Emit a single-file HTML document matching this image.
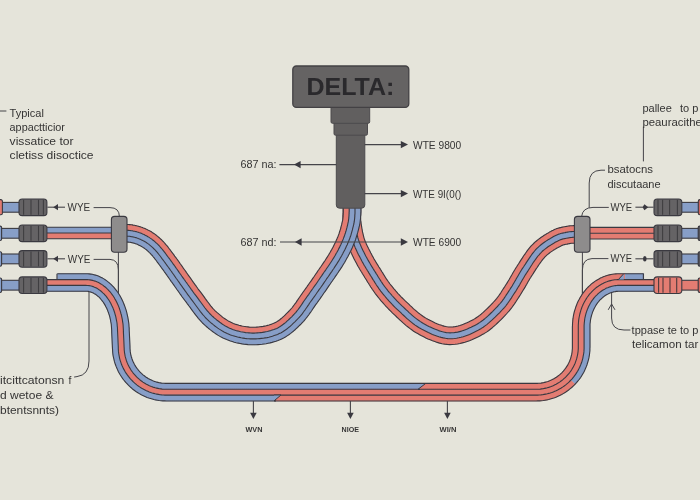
<!DOCTYPE html>
<html lang="en"><head><meta charset="utf-8"><title>Delta / Wye wiring diagram</title>
<style>
html,body{margin:0;padding:0;background:#e5e4da;}
body{width:700px;height:500px;overflow:hidden;}
svg{display:block;will-change:transform;}
text{font-family:"Liberation Sans",sans-serif;fill:#353434;}
</style></head><body>
<svg width="700" height="500" viewBox="0 0 700 500">
<rect width="700" height="500" fill="#e5e4da"/>
<path d="M94,207.6 H110 Q119.4,207.6 119.4,216.4" fill="none" stroke="#454449" stroke-width="1.0" stroke-linecap="round" stroke-linejoin="round" />
<path d="M94,259.4 H110 Q118.4,259.8 118.4,270 V300" fill="none" stroke="#454449" stroke-width="1.0" stroke-linecap="round" stroke-linejoin="round" />
<path d="M118.4,252 V300" fill="none" stroke="#454449" stroke-width="1.0" stroke-linecap="round" stroke-linejoin="round" />
<path d="M89,290 V361 Q89,375 77,376.6 L74.5,377" fill="none" stroke="#454449" stroke-width="1.0" stroke-linecap="round" stroke-linejoin="round" />
<path d="M0,111 H6" fill="none" stroke="#454449" stroke-width="1.0" stroke-linecap="round" stroke-linejoin="round" />
<path d="M608.4,207.4 H593 Q582.4,207.6 581.6,216.4" fill="none" stroke="#454449" stroke-width="1.0" stroke-linecap="round" stroke-linejoin="round" />
<path d="M608,258.6 H592 Q582.4,259 582.4,270 V300" fill="none" stroke="#454449" stroke-width="1.0" stroke-linecap="round" stroke-linejoin="round" />
<path d="M582.4,252 V300" fill="none" stroke="#454449" stroke-width="1.0" stroke-linecap="round" stroke-linejoin="round" />
<path d="M604.6,170.2 H601 Q589.2,170.4 589.2,183 V207.4" fill="none" stroke="#454449" stroke-width="1.0" stroke-linecap="round" stroke-linejoin="round" />
<path d="M643.4,127 V161" fill="none" stroke="#454449" stroke-width="1.0" stroke-linecap="round" stroke-linejoin="round" />
<path d="M611.6,291 V318 Q611.6,330 624,330 H630" fill="none" stroke="#454449" stroke-width="1.0" stroke-linecap="round" stroke-linejoin="round" />
<path d="M608.4,309.5 L611.6,304 L614.8,309.5" fill="none" stroke="#454449" stroke-width="1.0" stroke-linecap="round" stroke-linejoin="round" />
<polygon points="360.8,204.0 360.8,204.3 360.8,204.7 360.8,205.2 360.8,205.7 360.8,206.2 360.8,206.8 360.8,207.4 360.8,208.1 360.8,208.7 360.8,209.4 360.8,210.1 360.8,210.7 360.8,211.4 360.8,212.1 360.8,212.8 360.7,213.6 360.7,214.3 360.6,214.9 360.6,215.4 360.6,215.9 360.5,216.3 360.5,216.7 360.5,217.1 360.5,217.5 360.5,218.0 360.6,218.5 360.6,219.2 360.7,220.0 360.8,220.9 361.0,222.1 361.1,223.3 361.3,224.5 361.5,225.8 361.7,227.2 361.9,228.5 362.2,229.9 362.4,231.3 362.7,232.6 363.0,233.9 363.3,235.2 363.6,236.4 363.9,237.5 364.2,238.5 364.6,239.6 365.0,240.7 365.4,241.7 365.9,242.8 366.3,243.9 366.8,245.0 367.3,246.1 367.9,247.2 368.4,248.3 369.0,249.4 369.6,250.6 370.2,251.8 370.8,253.0 371.4,254.1 372.0,255.2 372.6,256.4 373.3,257.5 373.9,258.7 374.6,259.9 375.3,261.0 376.0,262.2 376.7,263.4 377.5,264.6 378.2,265.8 378.9,267.0 379.7,268.1 380.4,269.3 381.2,270.6 381.9,271.8 382.7,272.9 383.4,274.1 384.1,275.2 384.8,276.4 385.5,277.5 386.2,278.6 386.9,279.6 387.7,280.7 388.4,281.8 389.2,282.9 390.0,284.0 390.9,285.1 391.8,286.2 392.8,287.4 393.7,288.6 394.7,289.7 395.7,290.9 396.8,292.1 397.8,293.3 398.9,294.5 400.0,295.6 401.1,296.8 402.3,298.0 403.5,299.2 404.7,300.4 406.0,301.6 407.4,302.9 408.8,304.2 410.2,305.6 411.7,306.9 413.1,308.3 414.5,309.6 416.0,310.8 417.5,312.1 418.9,313.3 420.4,314.4 421.9,315.5 423.3,316.5 424.8,317.5 426.3,318.4 428.0,319.3 429.8,320.2 431.5,321.1 433.3,322.0 435.2,322.9 437.0,323.7 438.8,324.4 440.6,325.0 442.3,325.6 444.0,326.1 445.7,326.5 447.2,326.8 448.7,327.0 450.2,327.0 451.6,327.0 453.1,326.9 454.7,326.7 456.3,326.4 458.0,326.0 459.8,325.5 461.5,324.9 463.3,324.3 465.1,323.5 466.9,322.8 468.6,322.0 470.4,321.1 472.1,320.2 473.7,319.4 475.2,318.5 476.6,317.5 478.1,316.5 479.6,315.4 481.1,314.2 482.6,312.9 484.0,311.6 485.5,310.2 486.9,308.8 488.3,307.5 489.7,306.1 491.1,304.7 492.4,303.3 493.6,302.0 494.7,300.8 495.7,299.7 496.6,298.6 497.4,297.5 498.3,296.4 499.1,295.3 499.9,294.1 500.7,293.0 501.4,291.8 502.2,290.5 503.0,289.3 503.9,287.9 504.8,286.6 505.6,285.2 506.5,283.9 507.3,282.6 508.1,281.3 508.9,280.0 509.7,278.6 510.5,277.2 511.3,275.7 512.2,274.3 513.0,272.8 513.9,271.3 514.8,269.8 515.7,268.2 516.7,266.7 517.6,265.2 518.6,263.8 519.5,262.4 520.4,260.9 521.4,259.4 522.4,257.9 523.4,256.3 524.4,254.8 525.5,253.3 526.6,251.7 527.7,250.2 528.9,248.7 530.1,247.2 531.4,245.7 532.8,244.3 534.1,243.0 535.5,241.7 537.0,240.5 538.4,239.4 539.9,238.3 541.3,237.2 542.8,236.3 544.2,235.3 545.6,234.5 546.9,233.6 548.3,232.9 549.5,232.1 550.7,231.5 551.9,230.8 553.2,230.2 554.4,229.6 555.7,229.1 556.9,228.6 558.1,228.2 559.2,227.9 560.3,227.6 561.3,227.4 562.3,227.1 563.2,227.0 564.1,226.8 564.9,226.7 565.6,226.5 566.4,226.4 567.4,226.2 568.4,226.0 569.5,225.9 570.5,225.8 571.5,225.7 572.4,225.7 573.3,225.6 574.1,225.6 574.9,225.5 575.6,225.5 576.3,225.5 576.8,225.5 577.1,225.5 577.4,225.4 577.8,231.3 577.4,231.3 577.0,231.3 576.5,231.3 575.8,231.4 575.1,231.4 574.4,231.4 573.6,231.5 572.8,231.5 571.9,231.6 571.0,231.6 570.1,231.7 569.2,231.8 568.3,232.0 567.5,232.1 566.7,232.3 565.9,232.4 565.1,232.6 564.3,232.7 563.5,232.9 562.6,233.1 561.7,233.3 560.8,233.5 559.9,233.8 558.9,234.1 557.9,234.5 556.8,235.0 555.7,235.5 554.6,236.0 553.5,236.6 552.4,237.2 551.2,237.9 549.9,238.7 548.6,239.4 547.3,240.3 546.0,241.1 544.7,242.0 543.3,243.0 542.0,244.0 540.7,245.0 539.4,246.1 538.1,247.3 536.9,248.4 535.7,249.7 534.6,251.0 533.5,252.3 532.4,253.7 531.3,255.2 530.3,256.6 529.3,258.1 528.3,259.6 527.3,261.1 526.3,262.6 525.4,264.1 524.4,265.5 523.5,267.0 522.5,268.4 521.6,269.8 520.7,271.3 519.8,272.8 518.9,274.3 518.1,275.7 517.2,277.2 516.4,278.6 515.6,280.1 514.7,281.5 513.9,282.9 513.1,284.3 512.3,285.7 511.4,287.1 510.5,288.4 509.7,289.8 508.8,291.1 508.0,292.4 507.2,293.7 506.3,294.9 505.5,296.2 504.7,297.4 503.9,298.6 503.0,299.8 502.1,301.1 501.1,302.3 500.1,303.5 499.0,304.7 497.9,306.0 496.6,307.3 495.3,308.7 493.9,310.1 492.5,311.6 491.0,313.0 489.5,314.5 488.0,315.9 486.4,317.3 484.8,318.7 483.2,320.0 481.5,321.2 479.9,322.4 478.2,323.5 476.6,324.5 474.8,325.4 473.0,326.3 471.1,327.3 469.2,328.1 467.3,329.0 465.4,329.7 463.4,330.4 461.5,331.1 459.5,331.6 457.6,332.1 455.6,332.4 453.7,332.7 451.9,332.8 450.1,332.9 448.2,332.8 446.4,332.6 444.5,332.2 442.6,331.8 440.6,331.2 438.6,330.6 436.7,329.8 434.7,329.1 432.8,328.2 430.8,327.3 428.9,326.4 427.0,325.4 425.2,324.4 423.4,323.5 421.8,322.5 420.1,321.4 418.5,320.3 416.9,319.1 415.3,317.9 413.7,316.6 412.2,315.3 410.6,313.9 409.1,312.6 407.7,311.2 406.2,309.8 404.8,308.5 403.4,307.2 402.0,305.9 400.7,304.6 399.4,303.4 398.2,302.1 396.9,300.9 395.8,299.7 394.6,298.4 393.5,297.2 392.4,296.0 391.3,294.7 390.3,293.5 389.2,292.3 388.2,291.1 387.3,289.9 386.3,288.7 385.4,287.5 384.5,286.4 383.7,285.2 382.9,284.1 382.1,282.9 381.3,281.8 380.6,280.6 379.9,279.5 379.1,278.3 378.4,277.2 377.7,276.0 377.0,274.8 376.2,273.6 375.5,272.4 374.7,271.2 374.0,270.1 373.2,268.8 372.5,267.6 371.7,266.4 371.0,265.2 370.3,264.0 369.6,262.8 368.9,261.6 368.2,260.4 367.5,259.2 366.9,258.0 366.2,256.8 365.6,255.7 365.0,254.5 364.4,253.3 363.8,252.1 363.2,250.9 362.6,249.7 362.0,248.6 361.5,247.4 361.0,246.2 360.5,245.1 360.0,243.9 359.5,242.7 359.1,241.6 358.7,240.4 358.3,239.2 357.9,237.9 357.6,236.6 357.3,235.2 357.0,233.8 356.7,232.4 356.4,231.0 356.2,229.5 355.9,228.1 355.7,226.7 355.5,225.3 355.3,224.1 355.2,222.8 355.0,221.7 354.9,220.7 354.8,219.8 354.7,219.0 354.7,218.3 354.7,217.6 354.7,217.0 354.7,216.5 354.7,216.0 354.7,215.5 354.8,215.0 354.8,214.4 354.9,213.9 354.9,213.3 354.9,212.7 354.9,212.0 354.9,211.4 354.9,210.7 354.9,210.1 354.9,209.4 354.9,208.7 354.9,208.1 354.9,207.4 354.9,206.8 354.9,206.2 354.9,205.7 354.9,205.2 354.9,204.7 354.9,204.3 354.9,204.0" fill="#e37c72" stroke="#e37c72" stroke-width="0.4"/>
<polygon points="354.9,204.0 354.9,204.3 354.9,204.7 354.9,205.2 354.9,205.7 354.9,206.2 354.9,206.8 354.9,207.4 354.9,208.1 354.9,208.7 354.9,209.4 354.9,210.1 354.9,210.7 354.9,211.4 354.9,212.0 354.9,212.7 354.9,213.3 354.9,213.9 354.8,214.4 354.8,215.0 354.7,215.5 354.7,216.0 354.7,216.5 354.7,217.0 354.7,217.6 354.7,218.3 354.7,219.0 354.8,219.8 354.9,220.7 355.0,221.7 355.2,222.8 355.3,224.1 355.5,225.3 355.7,226.7 355.9,228.1 356.2,229.5 356.4,231.0 356.7,232.4 357.0,233.8 357.3,235.2 357.6,236.6 357.9,237.9 358.3,239.2 358.7,240.4 359.1,241.6 359.5,242.7 360.0,243.9 360.5,245.1 361.0,246.2 361.5,247.4 362.0,248.6 362.6,249.7 363.2,250.9 363.8,252.1 364.4,253.3 365.0,254.5 365.6,255.7 366.2,256.8 366.9,258.0 367.5,259.2 368.2,260.4 368.9,261.6 369.6,262.8 370.3,264.0 371.0,265.2 371.7,266.4 372.5,267.6 373.2,268.8 374.0,270.1 374.7,271.2 375.5,272.4 376.2,273.6 377.0,274.8 377.7,276.0 378.4,277.2 379.1,278.3 379.9,279.5 380.6,280.6 381.3,281.8 382.1,282.9 382.9,284.1 383.7,285.2 384.5,286.4 385.4,287.5 386.3,288.7 387.3,289.9 388.2,291.1 389.2,292.3 390.3,293.5 391.3,294.7 392.4,296.0 393.5,297.2 394.6,298.4 395.8,299.7 396.9,300.9 398.2,302.1 399.4,303.4 400.7,304.6 402.0,305.9 403.4,307.2 404.8,308.5 406.2,309.8 407.7,311.2 409.1,312.6 410.6,313.9 412.2,315.3 413.7,316.6 415.3,317.9 416.9,319.1 418.5,320.3 420.1,321.4 421.8,322.5 423.4,323.5 425.2,324.4 427.0,325.4 428.9,326.4 430.8,327.3 432.8,328.2 434.7,329.1 436.7,329.8 438.6,330.6 440.6,331.2 442.6,331.8 444.5,332.2 446.4,332.6 448.2,332.8 450.1,332.9 451.9,332.8 453.7,332.7 455.6,332.4 457.6,332.1 459.5,331.6 461.5,331.1 463.4,330.4 465.4,329.7 467.3,329.0 469.2,328.1 471.1,327.3 473.0,326.3 474.8,325.4 476.6,324.5 478.2,323.5 479.9,322.4 481.5,321.2 483.2,320.0 484.8,318.7 486.4,317.3 488.0,315.9 489.5,314.5 491.0,313.0 492.5,311.6 493.9,310.1 495.3,308.7 496.6,307.3 497.9,306.0 499.0,304.7 500.1,303.5 501.1,302.3 502.1,301.1 503.0,299.8 503.9,298.6 504.7,297.4 505.5,296.2 506.3,294.9 507.2,293.7 508.0,292.4 508.8,291.1 509.7,289.8 510.5,288.4 511.4,287.1 512.3,285.7 513.1,284.3 513.9,282.9 514.7,281.5 515.6,280.1 516.4,278.6 517.2,277.2 518.1,275.7 518.9,274.3 519.8,272.8 520.7,271.3 521.6,269.8 522.5,268.4 523.5,267.0 524.4,265.5 525.4,264.1 526.3,262.6 527.3,261.1 528.3,259.6 529.3,258.1 530.3,256.6 531.3,255.2 532.4,253.7 533.5,252.3 534.6,251.0 535.7,249.7 536.9,248.4 538.1,247.3 539.4,246.1 540.7,245.0 542.0,244.0 543.3,243.0 544.7,242.0 546.0,241.1 547.3,240.3 548.6,239.4 549.9,238.7 551.2,237.9 552.4,237.2 553.5,236.6 554.6,236.0 555.7,235.5 556.8,235.0 557.9,234.5 558.9,234.1 559.9,233.8 560.8,233.5 561.7,233.3 562.6,233.1 563.5,232.9 564.3,232.7 565.1,232.6 565.9,232.4 566.7,232.3 567.5,232.1 568.3,232.0 569.2,231.8 570.1,231.7 571.0,231.6 571.9,231.6 572.8,231.5 573.6,231.5 574.4,231.4 575.1,231.4 575.8,231.4 576.5,231.3 577.0,231.3 577.4,231.3 577.8,231.3 578.2,237.1 577.8,237.1 577.2,237.2 576.7,237.2 576.0,237.2 575.4,237.2 574.6,237.3 573.9,237.3 573.1,237.3 572.3,237.4 571.6,237.5 570.8,237.5 570.0,237.6 569.3,237.7 568.5,237.9 567.8,238.0 567.0,238.2 566.2,238.3 565.4,238.5 564.7,238.6 563.9,238.8 563.2,238.9 562.4,239.1 561.6,239.4 560.8,239.6 560.0,239.9 559.2,240.3 558.3,240.7 557.4,241.2 556.3,241.7 555.2,242.3 554.1,243.0 552.9,243.7 551.7,244.4 550.5,245.2 549.2,246.0 548.0,246.8 546.8,247.7 545.6,248.6 544.4,249.6 543.2,250.5 542.1,251.5 541.1,252.6 540.1,253.6 539.1,254.8 538.0,256.0 537.0,257.3 536.1,258.6 535.1,260.0 534.1,261.4 533.1,262.8 532.2,264.3 531.2,265.8 530.3,267.2 529.3,268.7 528.4,270.2 527.5,271.6 526.6,273.0 525.7,274.4 524.8,275.8 524.0,277.2 523.1,278.7 522.3,280.1 521.5,281.5 520.6,283.0 519.8,284.5 519.0,285.9 518.1,287.3 517.2,288.8 516.4,290.2 515.5,291.6 514.6,292.9 513.7,294.2 512.9,295.5 512.1,296.8 511.3,298.1 510.4,299.4 509.5,300.7 508.6,302.0 507.7,303.3 506.7,304.6 505.7,306.0 504.6,307.3 503.4,308.6 502.1,310.0 500.8,311.4 499.5,312.8 498.1,314.2 496.6,315.7 495.1,317.2 493.5,318.7 491.9,320.2 490.2,321.7 488.5,323.2 486.8,324.6 485.0,325.9 483.2,327.2 481.3,328.4 479.4,329.5 477.6,330.6 475.6,331.6 473.7,332.5 471.6,333.5 469.6,334.4 467.5,335.2 465.3,336.0 463.2,336.7 461.0,337.3 458.8,337.8 456.6,338.2 454.4,338.5 452.2,338.7 449.9,338.7 447.7,338.6 445.5,338.3 443.3,337.9 441.1,337.4 438.9,336.8 436.7,336.1 434.6,335.3 432.4,334.4 430.4,333.5 428.3,332.6 426.3,331.6 424.3,330.6 422.4,329.6 420.6,328.5 418.7,327.5 416.9,326.3 415.1,325.1 413.3,323.8 411.6,322.4 410.0,321.1 408.3,319.7 406.7,318.3 405.2,316.9 403.7,315.5 402.2,314.1 400.8,312.7 399.4,311.4 398.0,310.1 396.6,308.8 395.3,307.6 394.0,306.3 392.7,305.0 391.5,303.7 390.3,302.4 389.1,301.1 388.0,299.8 386.9,298.6 385.8,297.3 384.7,296.0 383.7,294.8 382.7,293.6 381.7,292.3 380.7,291.1 379.8,289.8 378.9,288.6 378.1,287.4 377.2,286.2 376.4,285.0 375.7,283.8 374.9,282.6 374.2,281.4 373.4,280.3 372.7,279.1 372.0,277.9 371.3,276.7 370.5,275.6 369.8,274.4 369.0,273.1 368.3,271.9 367.5,270.7 366.8,269.5 366.0,268.3 365.3,267.0 364.5,265.8 363.8,264.6 363.1,263.3 362.4,262.1 361.7,260.8 361.1,259.6 360.4,258.3 359.8,257.1 359.2,255.9 358.5,254.7 357.9,253.5 357.3,252.3 356.8,251.1 356.2,249.8 355.6,248.6 355.1,247.4 354.6,246.1 354.1,244.8 353.6,243.5 353.1,242.2 352.7,240.8 352.3,239.5 351.9,238.0 351.6,236.5 351.2,235.0 350.9,233.5 350.7,232.0 350.4,230.5 350.2,229.0 349.9,227.6 349.7,226.2 349.5,224.8 349.4,223.6 349.2,222.4 349.1,221.3 349.0,220.3 348.9,219.4 348.8,218.5 348.8,217.7 348.8,217.0 348.8,216.3 348.9,215.7 348.9,215.1 348.9,214.5 349.0,214.0 349.0,213.5 349.0,213.0 349.1,212.5 349.1,212.0 349.1,211.4 349.1,210.7 349.1,210.1 349.1,209.4 349.1,208.7 349.1,208.1 349.1,207.4 349.1,206.8 349.1,206.2 349.1,205.7 349.1,205.2 349.1,204.7 349.1,204.3 349.1,204.0" fill="#879ec7" stroke="#879ec7" stroke-width="0.4"/>
<polygon points="349.1,204.0 349.1,204.3 349.1,204.7 349.1,205.2 349.1,205.7 349.1,206.2 349.1,206.8 349.1,207.4 349.1,208.1 349.1,208.7 349.1,209.4 349.1,210.1 349.1,210.7 349.1,211.4 349.1,212.0 349.1,212.5 349.0,213.0 349.0,213.5 349.0,214.0 348.9,214.5 348.9,215.1 348.9,215.7 348.8,216.3 348.8,217.0 348.8,217.7 348.8,218.5 348.9,219.4 349.0,220.3 349.1,221.3 349.2,222.4 349.4,223.6 349.5,224.8 349.7,226.2 349.9,227.6 350.2,229.0 350.4,230.5 350.7,232.0 350.9,233.5 351.2,235.0 351.6,236.5 351.9,238.0 352.3,239.5 352.7,240.8 353.1,242.2 353.6,243.5 354.1,244.8 354.6,246.1 355.1,247.4 355.6,248.6 356.2,249.8 356.8,251.1 357.3,252.3 357.9,253.5 358.5,254.7 359.2,255.9 359.8,257.1 360.4,258.3 361.1,259.6 361.7,260.8 362.4,262.1 363.1,263.3 363.8,264.6 364.5,265.8 365.3,267.0 366.0,268.3 366.8,269.5 367.5,270.7 368.3,271.9 369.0,273.1 369.8,274.4 370.5,275.6 371.3,276.7 372.0,277.9 372.7,279.1 373.4,280.3 374.2,281.4 374.9,282.6 375.7,283.8 376.4,285.0 377.2,286.2 378.1,287.4 378.9,288.6 379.8,289.8 380.7,291.1 381.7,292.3 382.7,293.6 383.7,294.8 384.7,296.0 385.8,297.3 386.9,298.6 388.0,299.8 389.1,301.1 390.3,302.4 391.5,303.7 392.7,305.0 394.0,306.3 395.3,307.6 396.6,308.8 398.0,310.1 399.4,311.4 400.8,312.7 402.2,314.1 403.7,315.5 405.2,316.9 406.7,318.3 408.3,319.7 410.0,321.1 411.6,322.4 413.3,323.8 415.1,325.1 416.9,326.3 418.7,327.5 420.6,328.5 422.4,329.6 424.3,330.6 426.3,331.6 428.3,332.6 430.4,333.5 432.4,334.4 434.6,335.3 436.7,336.1 438.9,336.8 441.1,337.4 443.3,337.9 445.5,338.3 447.7,338.6 449.9,338.7 452.2,338.7 454.4,338.5 456.6,338.2 458.8,337.8 461.0,337.3 463.2,336.7 465.3,336.0 467.5,335.2 469.6,334.4 471.6,333.5 473.7,332.5 475.6,331.6 477.6,330.6 479.4,329.5 481.3,328.4 483.2,327.2 485.0,325.9 486.8,324.6 488.5,323.2 490.2,321.7 491.9,320.2 493.5,318.7 495.1,317.2 496.6,315.7 498.1,314.2 499.5,312.8 500.8,311.4 502.1,310.0 503.4,308.6 504.6,307.3 505.7,306.0 506.7,304.6 507.7,303.3 508.6,302.0 509.5,300.7 510.4,299.4 511.3,298.1 512.1,296.8 512.9,295.5 513.7,294.2 514.6,292.9 515.5,291.6 516.4,290.2 517.2,288.8 518.1,287.3 519.0,285.9 519.8,284.5 520.6,283.0 521.5,281.5 522.3,280.1 523.1,278.7 524.0,277.2 524.8,275.8 525.7,274.4 526.6,273.0 527.5,271.6 528.4,270.2 529.3,268.7 530.3,267.2 531.2,265.8 532.2,264.3 533.1,262.8 534.1,261.4 535.1,260.0 536.1,258.6 537.0,257.3 538.0,256.0 539.1,254.8 540.1,253.6 541.1,252.6 542.1,251.5 543.2,250.5 544.4,249.6 545.6,248.6 546.8,247.7 548.0,246.8 549.2,246.0 550.5,245.2 551.7,244.4 552.9,243.7 554.1,243.0 555.2,242.3 556.3,241.7 557.4,241.2 558.3,240.7 559.2,240.3 560.0,239.9 560.8,239.6 561.6,239.4 562.4,239.1 563.2,238.9 563.9,238.8 564.7,238.6 565.4,238.5 566.2,238.3 567.0,238.2 567.8,238.0 568.5,237.9 569.3,237.7 570.0,237.6 570.8,237.5 571.6,237.5 572.3,237.4 573.1,237.3 573.9,237.3 574.6,237.3 575.4,237.2 576.0,237.2 576.7,237.2 577.2,237.2 577.8,237.1 578.2,237.1 578.6,243.0 578.1,243.0 577.5,243.0 576.9,243.0 576.2,243.1 575.6,243.1 574.9,243.1 574.2,243.1 573.5,243.2 572.8,243.2 572.1,243.3 571.4,243.3 570.8,243.4 570.2,243.5 569.6,243.6 568.8,243.8 568.0,243.9 567.2,244.1 566.5,244.2 565.8,244.3 565.2,244.5 564.6,244.6 564.0,244.8 563.4,244.9 562.8,245.1 562.2,245.4 561.5,245.6 560.9,246.0 560.1,246.4 559.1,246.9 558.1,247.5 557.0,248.1 555.9,248.7 554.8,249.4 553.6,250.1 552.5,250.9 551.4,251.6 550.2,252.4 549.2,253.2 548.1,254.1 547.1,254.9 546.1,255.8 545.2,256.7 544.4,257.6 543.5,258.6 542.6,259.7 541.7,260.8 540.8,262.1 539.9,263.3 538.9,264.7 538.0,266.1 537.1,267.5 536.1,268.9 535.2,270.4 534.2,271.9 533.3,273.4 532.4,274.8 531.5,276.1 530.7,277.5 529.8,278.8 529.0,280.2 528.2,281.6 527.4,283.0 526.6,284.5 525.7,285.9 524.9,287.4 524.0,288.9 523.1,290.3 522.2,291.8 521.3,293.3 520.4,294.8 519.5,296.1 518.7,297.4 517.8,298.7 517.0,300.0 516.2,301.3 515.3,302.6 514.4,304.0 513.4,305.4 512.4,306.8 511.4,308.2 510.2,309.6 509.0,311.1 507.7,312.5 506.4,314.0 505.1,315.4 503.7,316.8 502.3,318.3 500.8,319.9 499.2,321.4 497.5,323.0 495.8,324.6 494.1,326.1 492.3,327.7 490.4,329.2 488.5,330.7 486.5,332.1 484.4,333.4 482.3,334.6 480.3,335.7 478.3,336.8 476.2,337.8 474.0,338.8 471.8,339.8 469.5,340.7 467.2,341.5 464.9,342.3 462.4,342.9 460.0,343.5 457.5,344.0 455.0,344.3 452.4,344.5 449.8,344.6 447.2,344.4 444.6,344.1 442.1,343.7 439.6,343.1 437.2,342.4 434.8,341.6 432.5,340.8 430.2,339.8 428.0,338.9 425.8,337.9 423.7,336.8 421.6,335.8 419.6,334.7 417.7,333.6 415.7,332.5 413.6,331.2 411.7,329.8 409.8,328.4 408.0,327.0 406.2,325.6 404.5,324.1 402.8,322.7 401.2,321.2 399.7,319.8 398.2,318.4 396.7,317.0 395.4,315.7 394.0,314.4 392.6,313.1 391.2,311.7 389.9,310.4 388.5,309.0 387.3,307.7 386.0,306.4 384.8,305.0 383.6,303.7 382.5,302.4 381.3,301.1 380.3,299.8 379.2,298.5 378.1,297.2 377.1,295.9 376.1,294.6 375.1,293.3 374.2,292.0 373.3,290.7 372.4,289.5 371.6,288.2 370.7,287.0 370.0,285.7 369.2,284.5 368.5,283.3 367.7,282.2 367.0,281.0 366.3,279.8 365.6,278.7 364.8,277.5 364.1,276.2 363.3,275.0 362.5,273.8 361.8,272.5 361.0,271.3 360.2,270.0 359.5,268.8 358.8,267.5 358.0,266.2 357.3,264.9 356.6,263.6 355.9,262.3 355.2,261.0 354.6,259.8 353.9,258.6 353.3,257.3 352.7,256.1 352.1,254.8 351.5,253.6 350.9,252.3 350.3,251.0 349.7,249.6 349.1,248.3 348.6,246.9 348.1,245.5 347.6,244.0 347.1,242.5 346.7,241.0 346.2,239.4 345.9,237.8 345.5,236.2 345.2,234.6 344.9,233.0 344.6,231.5 344.4,229.9 344.1,228.4 343.9,227.0 343.8,225.6 343.6,224.3 343.4,223.2 343.3,222.0 343.2,220.9 343.1,219.8 343.0,218.8 343.0,217.8 343.0,216.9 343.0,216.1 343.0,215.3 343.1,214.7 343.1,214.1 343.1,213.5 343.2,213.1 343.2,212.7 343.2,212.4 343.2,211.9 343.2,211.4 343.2,210.7 343.2,210.1 343.2,209.4 343.2,208.7 343.2,208.1 343.2,207.4 343.2,206.8 343.2,206.2 343.2,205.7 343.2,205.2 343.2,204.7 343.2,204.3 343.2,204.0" fill="#e37c72" stroke="#e37c72" stroke-width="0.4"/>
<polyline points="360.8,204.0 360.8,204.3 360.8,204.7 360.8,205.2 360.8,205.7 360.8,206.2 360.8,206.8 360.8,207.4 360.8,208.1 360.8,208.7 360.8,209.4 360.8,210.1 360.8,210.7 360.8,211.4 360.8,212.1 360.8,212.8 360.7,213.6 360.7,214.3 360.6,214.9 360.6,215.4 360.6,215.9 360.5,216.3 360.5,216.7 360.5,217.1 360.5,217.5 360.5,218.0 360.6,218.5 360.6,219.2 360.7,220.0 360.8,220.9 361.0,222.1 361.1,223.3 361.3,224.5 361.5,225.8 361.7,227.2 361.9,228.5 362.2,229.9 362.4,231.3 362.7,232.6 363.0,233.9 363.3,235.2 363.6,236.4 363.9,237.5 364.2,238.5 364.6,239.6 365.0,240.7 365.4,241.7 365.9,242.8 366.3,243.9 366.8,245.0 367.3,246.1 367.9,247.2 368.4,248.3 369.0,249.4 369.6,250.6 370.2,251.8 370.8,253.0 371.4,254.1 372.0,255.2 372.6,256.4 373.3,257.5 373.9,258.7 374.6,259.9 375.3,261.0 376.0,262.2 376.7,263.4 377.5,264.6 378.2,265.8 378.9,267.0 379.7,268.1 380.4,269.3 381.2,270.6 381.9,271.8 382.7,272.9 383.4,274.1 384.1,275.2 384.8,276.4 385.5,277.5 386.2,278.6 386.9,279.6 387.7,280.7 388.4,281.8 389.2,282.9 390.0,284.0 390.9,285.1 391.8,286.2 392.8,287.4 393.7,288.6 394.7,289.7 395.7,290.9 396.8,292.1 397.8,293.3 398.9,294.5 400.0,295.6 401.1,296.8 402.3,298.0 403.5,299.2 404.7,300.4 406.0,301.6 407.4,302.9 408.8,304.2 410.2,305.6 411.7,306.9 413.1,308.3 414.5,309.6 416.0,310.8 417.5,312.1 418.9,313.3 420.4,314.4 421.9,315.5 423.3,316.5 424.8,317.5 426.3,318.4 428.0,319.3 429.8,320.2 431.5,321.1 433.3,322.0 435.2,322.9 437.0,323.7 438.8,324.4 440.6,325.0 442.3,325.6 444.0,326.1 445.7,326.5 447.2,326.8 448.7,327.0 450.2,327.0 451.6,327.0 453.1,326.9 454.7,326.7 456.3,326.4 458.0,326.0 459.8,325.5 461.5,324.9 463.3,324.3 465.1,323.5 466.9,322.8 468.6,322.0 470.4,321.1 472.1,320.2 473.7,319.4 475.2,318.5 476.6,317.5 478.1,316.5 479.6,315.4 481.1,314.2 482.6,312.9 484.0,311.6 485.5,310.2 486.9,308.8 488.3,307.5 489.7,306.1 491.1,304.7 492.4,303.3 493.6,302.0 494.7,300.8 495.7,299.7 496.6,298.6 497.4,297.5 498.3,296.4 499.1,295.3 499.9,294.1 500.7,293.0 501.4,291.8 502.2,290.5 503.0,289.3 503.9,287.9 504.8,286.6 505.6,285.2 506.5,283.9 507.3,282.6 508.1,281.3 508.9,280.0 509.7,278.6 510.5,277.2 511.3,275.7 512.2,274.3 513.0,272.8 513.9,271.3 514.8,269.8 515.7,268.2 516.7,266.7 517.6,265.2 518.6,263.8 519.5,262.4 520.4,260.9 521.4,259.4 522.4,257.9 523.4,256.3 524.4,254.8 525.5,253.3 526.6,251.7 527.7,250.2 528.9,248.7 530.1,247.2 531.4,245.7 532.8,244.3 534.1,243.0 535.5,241.7 537.0,240.5 538.4,239.4 539.9,238.3 541.3,237.2 542.8,236.3 544.2,235.3 545.6,234.5 546.9,233.6 548.3,232.9 549.5,232.1 550.7,231.5 551.9,230.8 553.2,230.2 554.4,229.6 555.7,229.1 556.9,228.6 558.1,228.2 559.2,227.9 560.3,227.6 561.3,227.4 562.3,227.1 563.2,227.0 564.1,226.8 564.9,226.7 565.6,226.5 566.4,226.4 567.4,226.2 568.4,226.0 569.5,225.9 570.5,225.8 571.5,225.7 572.4,225.7 573.3,225.6 574.1,225.6 574.9,225.5 575.6,225.5 576.3,225.5 576.8,225.5 577.1,225.5 577.4,225.4" fill="none" stroke="#3a3940" stroke-width="1.1" stroke-linejoin="round"/>
<polyline points="354.9,204.0 354.9,204.3 354.9,204.7 354.9,205.2 354.9,205.7 354.9,206.2 354.9,206.8 354.9,207.4 354.9,208.1 354.9,208.7 354.9,209.4 354.9,210.1 354.9,210.7 354.9,211.4 354.9,212.0 354.9,212.7 354.9,213.3 354.9,213.9 354.8,214.4 354.8,215.0 354.7,215.5 354.7,216.0 354.7,216.5 354.7,217.0 354.7,217.6 354.7,218.3 354.7,219.0 354.8,219.8 354.9,220.7 355.0,221.7 355.2,222.8 355.3,224.1 355.5,225.3 355.7,226.7 355.9,228.1 356.2,229.5 356.4,231.0 356.7,232.4 357.0,233.8 357.3,235.2 357.6,236.6 357.9,237.9 358.3,239.2 358.7,240.4 359.1,241.6 359.5,242.7 360.0,243.9 360.5,245.1 361.0,246.2 361.5,247.4 362.0,248.6 362.6,249.7 363.2,250.9 363.8,252.1 364.4,253.3 365.0,254.5 365.6,255.7 366.2,256.8 366.9,258.0 367.5,259.2 368.2,260.4 368.9,261.6 369.6,262.8 370.3,264.0 371.0,265.2 371.7,266.4 372.5,267.6 373.2,268.8 374.0,270.1 374.7,271.2 375.5,272.4 376.2,273.6 377.0,274.8 377.7,276.0 378.4,277.2 379.1,278.3 379.9,279.5 380.6,280.6 381.3,281.8 382.1,282.9 382.9,284.1 383.7,285.2 384.5,286.4 385.4,287.5 386.3,288.7 387.3,289.9 388.2,291.1 389.2,292.3 390.3,293.5 391.3,294.7 392.4,296.0 393.5,297.2 394.6,298.4 395.8,299.7 396.9,300.9 398.2,302.1 399.4,303.4 400.7,304.6 402.0,305.9 403.4,307.2 404.8,308.5 406.2,309.8 407.7,311.2 409.1,312.6 410.6,313.9 412.2,315.3 413.7,316.6 415.3,317.9 416.9,319.1 418.5,320.3 420.1,321.4 421.8,322.5 423.4,323.5 425.2,324.4 427.0,325.4 428.9,326.4 430.8,327.3 432.8,328.2 434.7,329.1 436.7,329.8 438.6,330.6 440.6,331.2 442.6,331.8 444.5,332.2 446.4,332.6 448.2,332.8 450.1,332.9 451.9,332.8 453.7,332.7 455.6,332.4 457.6,332.1 459.5,331.6 461.5,331.1 463.4,330.4 465.4,329.7 467.3,329.0 469.2,328.1 471.1,327.3 473.0,326.3 474.8,325.4 476.6,324.5 478.2,323.5 479.9,322.4 481.5,321.2 483.2,320.0 484.8,318.7 486.4,317.3 488.0,315.9 489.5,314.5 491.0,313.0 492.5,311.6 493.9,310.1 495.3,308.7 496.6,307.3 497.9,306.0 499.0,304.7 500.1,303.5 501.1,302.3 502.1,301.1 503.0,299.8 503.9,298.6 504.7,297.4 505.5,296.2 506.3,294.9 507.2,293.7 508.0,292.4 508.8,291.1 509.7,289.8 510.5,288.4 511.4,287.1 512.3,285.7 513.1,284.3 513.9,282.9 514.7,281.5 515.6,280.1 516.4,278.6 517.2,277.2 518.1,275.7 518.9,274.3 519.8,272.8 520.7,271.3 521.6,269.8 522.5,268.4 523.5,267.0 524.4,265.5 525.4,264.1 526.3,262.6 527.3,261.1 528.3,259.6 529.3,258.1 530.3,256.6 531.3,255.2 532.4,253.7 533.5,252.3 534.6,251.0 535.7,249.7 536.9,248.4 538.1,247.3 539.4,246.1 540.7,245.0 542.0,244.0 543.3,243.0 544.7,242.0 546.0,241.1 547.3,240.3 548.6,239.4 549.9,238.7 551.2,237.9 552.4,237.2 553.5,236.6 554.6,236.0 555.7,235.5 556.8,235.0 557.9,234.5 558.9,234.1 559.9,233.8 560.8,233.5 561.7,233.3 562.6,233.1 563.5,232.9 564.3,232.7 565.1,232.6 565.9,232.4 566.7,232.3 567.5,232.1 568.3,232.0 569.2,231.8 570.1,231.7 571.0,231.6 571.9,231.6 572.8,231.5 573.6,231.5 574.4,231.4 575.1,231.4 575.8,231.4 576.5,231.3 577.0,231.3 577.4,231.3 577.8,231.3" fill="none" stroke="#3a3940" stroke-width="1.1" stroke-linejoin="round"/>
<polyline points="349.1,204.0 349.1,204.3 349.1,204.7 349.1,205.2 349.1,205.7 349.1,206.2 349.1,206.8 349.1,207.4 349.1,208.1 349.1,208.7 349.1,209.4 349.1,210.1 349.1,210.7 349.1,211.4 349.1,212.0 349.1,212.5 349.0,213.0 349.0,213.5 349.0,214.0 348.9,214.5 348.9,215.1 348.9,215.7 348.8,216.3 348.8,217.0 348.8,217.7 348.8,218.5 348.9,219.4 349.0,220.3 349.1,221.3 349.2,222.4 349.4,223.6 349.5,224.8 349.7,226.2 349.9,227.6 350.2,229.0 350.4,230.5 350.7,232.0 350.9,233.5 351.2,235.0 351.6,236.5 351.9,238.0 352.3,239.5 352.7,240.8 353.1,242.2 353.6,243.5 354.1,244.8 354.6,246.1 355.1,247.4 355.6,248.6 356.2,249.8 356.8,251.1 357.3,252.3 357.9,253.5 358.5,254.7 359.2,255.9 359.8,257.1 360.4,258.3 361.1,259.6 361.7,260.8 362.4,262.1 363.1,263.3 363.8,264.6 364.5,265.8 365.3,267.0 366.0,268.3 366.8,269.5 367.5,270.7 368.3,271.9 369.0,273.1 369.8,274.4 370.5,275.6 371.3,276.7 372.0,277.9 372.7,279.1 373.4,280.3 374.2,281.4 374.9,282.6 375.7,283.8 376.4,285.0 377.2,286.2 378.1,287.4 378.9,288.6 379.8,289.8 380.7,291.1 381.7,292.3 382.7,293.6 383.7,294.8 384.7,296.0 385.8,297.3 386.9,298.6 388.0,299.8 389.1,301.1 390.3,302.4 391.5,303.7 392.7,305.0 394.0,306.3 395.3,307.6 396.6,308.8 398.0,310.1 399.4,311.4 400.8,312.7 402.2,314.1 403.7,315.5 405.2,316.9 406.7,318.3 408.3,319.7 410.0,321.1 411.6,322.4 413.3,323.8 415.1,325.1 416.9,326.3 418.7,327.5 420.6,328.5 422.4,329.6 424.3,330.6 426.3,331.6 428.3,332.6 430.4,333.5 432.4,334.4 434.6,335.3 436.7,336.1 438.9,336.8 441.1,337.4 443.3,337.9 445.5,338.3 447.7,338.6 449.9,338.7 452.2,338.7 454.4,338.5 456.6,338.2 458.8,337.8 461.0,337.3 463.2,336.7 465.3,336.0 467.5,335.2 469.6,334.4 471.6,333.5 473.7,332.5 475.6,331.6 477.6,330.6 479.4,329.5 481.3,328.4 483.2,327.2 485.0,325.9 486.8,324.6 488.5,323.2 490.2,321.7 491.9,320.2 493.5,318.7 495.1,317.2 496.6,315.7 498.1,314.2 499.5,312.8 500.8,311.4 502.1,310.0 503.4,308.6 504.6,307.3 505.7,306.0 506.7,304.6 507.7,303.3 508.6,302.0 509.5,300.7 510.4,299.4 511.3,298.1 512.1,296.8 512.9,295.5 513.7,294.2 514.6,292.9 515.5,291.6 516.4,290.2 517.2,288.8 518.1,287.3 519.0,285.9 519.8,284.5 520.6,283.0 521.5,281.5 522.3,280.1 523.1,278.7 524.0,277.2 524.8,275.8 525.7,274.4 526.6,273.0 527.5,271.6 528.4,270.2 529.3,268.7 530.3,267.2 531.2,265.8 532.2,264.3 533.1,262.8 534.1,261.4 535.1,260.0 536.1,258.6 537.0,257.3 538.0,256.0 539.1,254.8 540.1,253.6 541.1,252.6 542.1,251.5 543.2,250.5 544.4,249.6 545.6,248.6 546.8,247.7 548.0,246.8 549.2,246.0 550.5,245.2 551.7,244.4 552.9,243.7 554.1,243.0 555.2,242.3 556.3,241.7 557.4,241.2 558.3,240.7 559.2,240.3 560.0,239.9 560.8,239.6 561.6,239.4 562.4,239.1 563.2,238.9 563.9,238.8 564.7,238.6 565.4,238.5 566.2,238.3 567.0,238.2 567.8,238.0 568.5,237.9 569.3,237.7 570.0,237.6 570.8,237.5 571.6,237.5 572.3,237.4 573.1,237.3 573.9,237.3 574.6,237.3 575.4,237.2 576.0,237.2 576.7,237.2 577.2,237.2 577.8,237.1 578.2,237.1" fill="none" stroke="#3a3940" stroke-width="1.1" stroke-linejoin="round"/>
<polyline points="343.2,204.0 343.2,204.3 343.2,204.7 343.2,205.2 343.2,205.7 343.2,206.2 343.2,206.8 343.2,207.4 343.2,208.1 343.2,208.7 343.2,209.4 343.2,210.1 343.2,210.7 343.2,211.4 343.2,211.9 343.2,212.4 343.2,212.7 343.2,213.1 343.1,213.5 343.1,214.1 343.1,214.7 343.0,215.3 343.0,216.1 343.0,216.9 343.0,217.8 343.0,218.8 343.1,219.8 343.2,220.9 343.3,222.0 343.4,223.2 343.6,224.3 343.8,225.6 343.9,227.0 344.1,228.4 344.4,229.9 344.6,231.5 344.9,233.0 345.2,234.6 345.5,236.2 345.9,237.8 346.2,239.4 346.7,241.0 347.1,242.5 347.6,244.0 348.1,245.5 348.6,246.9 349.1,248.3 349.7,249.6 350.3,251.0 350.9,252.3 351.5,253.6 352.1,254.8 352.7,256.1 353.3,257.3 353.9,258.6 354.6,259.8 355.2,261.0 355.9,262.3 356.6,263.6 357.3,264.9 358.0,266.2 358.8,267.5 359.5,268.8 360.2,270.0 361.0,271.3 361.8,272.5 362.5,273.8 363.3,275.0 364.1,276.2 364.8,277.5 365.6,278.7 366.3,279.8 367.0,281.0 367.7,282.2 368.5,283.3 369.2,284.5 370.0,285.7 370.7,287.0 371.6,288.2 372.4,289.5 373.3,290.7 374.2,292.0 375.1,293.3 376.1,294.6 377.1,295.9 378.1,297.2 379.2,298.5 380.3,299.8 381.3,301.1 382.5,302.4 383.6,303.7 384.8,305.0 386.0,306.4 387.3,307.7 388.5,309.0 389.9,310.4 391.2,311.7 392.6,313.1 394.0,314.4 395.4,315.7 396.7,317.0 398.2,318.4 399.7,319.8 401.2,321.2 402.8,322.7 404.5,324.1 406.2,325.6 408.0,327.0 409.8,328.4 411.7,329.8 413.6,331.2 415.7,332.5 417.7,333.6 419.6,334.7 421.6,335.8 423.7,336.8 425.8,337.9 428.0,338.9 430.2,339.8 432.5,340.8 434.8,341.6 437.2,342.4 439.6,343.1 442.1,343.7 444.6,344.1 447.2,344.4 449.8,344.6 452.4,344.5 455.0,344.3 457.5,344.0 460.0,343.5 462.4,342.9 464.9,342.3 467.2,341.5 469.5,340.7 471.8,339.8 474.0,338.8 476.2,337.8 478.3,336.8 480.3,335.7 482.3,334.6 484.4,333.4 486.5,332.1 488.5,330.7 490.4,329.2 492.3,327.7 494.1,326.1 495.8,324.6 497.5,323.0 499.2,321.4 500.8,319.9 502.3,318.3 503.7,316.8 505.1,315.4 506.4,314.0 507.7,312.5 509.0,311.1 510.2,309.6 511.4,308.2 512.4,306.8 513.4,305.4 514.4,304.0 515.3,302.6 516.2,301.3 517.0,300.0 517.8,298.7 518.7,297.4 519.5,296.1 520.4,294.8 521.3,293.3 522.2,291.8 523.1,290.3 524.0,288.9 524.9,287.4 525.7,285.9 526.6,284.5 527.4,283.0 528.2,281.6 529.0,280.2 529.8,278.8 530.7,277.5 531.5,276.1 532.4,274.8 533.3,273.4 534.2,271.9 535.2,270.4 536.1,268.9 537.1,267.5 538.0,266.1 538.9,264.7 539.9,263.3 540.8,262.1 541.7,260.8 542.6,259.7 543.5,258.6 544.4,257.6 545.2,256.7 546.1,255.8 547.1,254.9 548.1,254.1 549.2,253.2 550.2,252.4 551.4,251.6 552.5,250.9 553.6,250.1 554.8,249.4 555.9,248.7 557.0,248.1 558.1,247.5 559.1,246.9 560.1,246.4 560.9,246.0 561.5,245.6 562.2,245.4 562.8,245.1 563.4,244.9 564.0,244.8 564.6,244.6 565.2,244.5 565.8,244.3 566.5,244.2 567.2,244.1 568.0,243.9 568.8,243.8 569.6,243.6 570.2,243.5 570.8,243.4 571.4,243.3 572.1,243.3 572.8,243.2 573.5,243.2 574.2,243.1 574.9,243.1 575.6,243.1 576.2,243.1 576.9,243.0 577.5,243.0 578.1,243.0 578.6,243.0" fill="none" stroke="#3a3940" stroke-width="1.1" stroke-linejoin="round"/>
<polygon points="124.4,224.4 124.5,224.4 124.8,224.4 125.1,224.4 125.5,224.5 126.0,224.5 126.6,224.5 127.2,224.5 127.8,224.5 128.5,224.5 129.3,224.6 130.0,224.6 130.8,224.7 131.7,224.8 132.4,224.9 133.1,225.1 133.8,225.2 134.5,225.3 135.2,225.5 135.9,225.6 136.6,225.8 137.4,226.0 138.2,226.2 139.0,226.4 139.9,226.6 140.7,226.9 141.6,227.2 142.5,227.5 143.3,227.9 144.2,228.2 145.0,228.6 145.8,229.0 146.6,229.3 147.5,229.8 148.3,230.2 149.2,230.6 150.0,231.1 150.9,231.6 151.8,232.1 152.6,232.7 153.5,233.2 154.3,233.8 155.2,234.4 156.0,235.0 156.7,235.6 157.5,236.2 158.2,236.8 159.0,237.5 159.7,238.1 160.5,238.8 161.2,239.5 161.9,240.2 162.6,241.0 163.4,241.7 164.1,242.5 164.9,243.4 165.6,244.3 166.4,245.2 167.3,246.2 168.1,247.2 168.9,248.3 169.8,249.4 170.6,250.5 171.4,251.6 172.2,252.7 173.1,253.8 173.9,254.9 174.7,256.1 175.5,257.2 176.3,258.2 177.1,259.3 177.9,260.4 178.7,261.5 179.5,262.6 180.2,263.7 181.0,264.8 181.8,265.9 182.6,267.0 183.3,268.1 184.1,269.2 184.9,270.3 185.7,271.4 186.5,272.6 187.3,273.7 188.1,274.9 189.0,276.1 189.9,277.3 190.8,278.6 191.6,279.8 192.5,281.1 193.4,282.4 194.3,283.6 195.2,284.9 196.2,286.2 197.1,287.5 198.0,288.8 199.0,290.1 200.0,291.4 201.0,292.7 202.1,294.1 203.2,295.6 204.3,297.1 205.3,298.6 206.4,300.1 207.5,301.6 208.6,303.0 209.6,304.4 210.7,305.8 211.8,307.1 212.8,308.3 213.9,309.5 214.9,310.6 216.0,311.6 217.2,312.7 218.4,313.7 219.6,314.7 220.8,315.7 222.0,316.7 223.2,317.6 224.5,318.5 225.7,319.3 227.0,320.1 228.2,320.9 229.5,321.6 230.8,322.2 232.0,322.8 233.3,323.4 234.7,323.9 236.0,324.4 237.4,324.8 238.9,325.3 240.4,325.6 241.8,326.0 243.4,326.3 244.9,326.5 246.4,326.8 247.9,326.9 249.4,327.1 251.0,327.2 252.4,327.2 253.9,327.2 255.4,327.2 256.9,327.1 258.4,327.0 260.0,326.8 261.6,326.6 263.1,326.4 264.6,326.1 266.2,325.8 267.6,325.4 269.1,325.0 270.5,324.5 271.8,324.1 273.1,323.6 274.3,323.1 275.4,322.5 276.5,321.9 277.6,321.2 278.7,320.5 279.8,319.7 280.9,318.8 282.0,317.9 283.1,316.9 284.2,315.9 285.3,314.8 286.4,313.7 287.5,312.6 288.6,311.5 289.7,310.4 290.6,309.4 291.4,308.5 292.3,307.5 293.1,306.4 293.9,305.3 294.7,304.2 295.6,303.1 296.4,301.9 297.2,300.6 298.1,299.4 299.0,298.0 299.9,296.7 300.9,295.3 301.9,293.9 302.8,292.5 303.8,291.2 304.8,289.8 305.8,288.4 306.8,287.0 307.7,285.6 308.7,284.2 309.7,282.8 310.8,281.3 311.8,279.9 312.8,278.4 313.8,277.0 314.8,275.5 315.8,274.0 316.8,272.6 317.8,271.0 318.9,269.5 319.9,268.0 321.0,266.5 322.0,265.0 323.1,263.4 324.1,261.9 325.1,260.5 326.0,259.0 326.9,257.6 327.8,256.2 328.7,254.8 329.4,253.5 330.2,252.2 330.9,250.9 331.6,249.7 332.3,248.4 333.0,247.2 333.6,246.0 334.2,244.8 334.8,243.6 335.4,242.4 335.9,241.3 336.4,240.1 336.9,239.0 337.4,237.8 337.9,236.7 338.3,235.6 338.7,234.6 339.1,233.5 339.4,232.4 339.8,231.3 340.1,230.2 340.5,229.1 340.8,228.0 341.0,226.9 341.3,225.9 341.6,224.9 341.8,223.9 342.0,222.9 342.2,222.1 342.4,221.3 342.6,220.6 342.7,220.0 342.8,219.4 342.8,218.8 342.9,218.3 343.0,217.8 343.0,217.2 343.1,216.7 343.1,216.1 343.1,215.5 343.2,214.9 343.2,214.2 343.2,213.5 343.3,212.9 343.3,212.2 343.3,211.5 343.3,210.8 343.3,210.0 343.3,209.3 343.3,208.5 343.3,207.7 343.3,207.0 343.3,206.3 343.2,205.7 343.2,205.1 343.2,204.5 343.2,204.1 349.1,204.0 349.1,204.4 349.1,205.0 349.1,205.5 349.1,206.2 349.1,206.9 349.1,207.6 349.2,208.4 349.2,209.2 349.2,210.0 349.2,210.8 349.2,211.6 349.1,212.4 349.1,213.1 349.1,213.8 349.0,214.5 349.0,215.2 349.0,215.9 348.9,216.5 348.9,217.1 348.8,217.7 348.8,218.3 348.7,219.0 348.6,219.6 348.5,220.3 348.4,221.0 348.3,221.7 348.1,222.5 347.9,223.4 347.7,224.3 347.5,225.3 347.2,226.3 347.0,227.4 346.7,228.4 346.4,229.6 346.1,230.7 345.7,231.8 345.4,233.0 345.0,234.2 344.6,235.4 344.2,236.6 343.7,237.7 343.3,238.9 342.8,240.1 342.3,241.3 341.8,242.5 341.2,243.7 340.7,244.9 340.1,246.1 339.5,247.4 338.8,248.6 338.2,249.9 337.5,251.2 336.8,252.5 336.0,253.8 335.3,255.2 334.5,256.5 333.7,257.9 332.8,259.3 331.9,260.7 330.9,262.2 329.9,263.7 328.9,265.2 327.9,266.7 326.8,268.3 325.8,269.8 324.7,271.3 323.7,272.8 322.6,274.4 321.6,275.9 320.6,277.3 319.6,278.8 318.6,280.3 317.6,281.7 316.6,283.2 315.6,284.7 314.5,286.1 313.5,287.5 312.5,289.0 311.5,290.4 310.5,291.8 309.5,293.2 308.6,294.6 307.6,295.9 306.6,297.3 305.7,298.7 304.7,300.0 303.8,301.3 302.9,302.6 302.1,303.9 301.2,305.2 300.4,306.4 299.5,307.6 298.6,308.8 297.7,310.0 296.8,311.1 295.9,312.3 294.9,313.4 293.9,314.5 292.8,315.6 291.7,316.8 290.5,317.9 289.4,319.0 288.2,320.2 287.0,321.2 285.8,322.3 284.6,323.3 283.3,324.3 282.0,325.2 280.8,326.1 279.4,326.9 278.1,327.7 276.8,328.4 275.3,329.0 273.9,329.6 272.3,330.1 270.7,330.6 269.1,331.0 267.5,331.5 265.8,331.8 264.1,332.1 262.4,332.4 260.7,332.6 259.0,332.8 257.3,332.9 255.6,333.0 254.0,333.1 252.3,333.1 250.7,333.0 249.0,332.9 247.3,332.8 245.6,332.6 244.0,332.3 242.3,332.0 240.6,331.7 239.0,331.3 237.3,330.9 235.7,330.4 234.2,329.9 232.6,329.4 231.1,328.8 229.6,328.2 228.2,327.5 226.8,326.7 225.3,326.0 223.9,325.1 222.5,324.2 221.2,323.3 219.8,322.3 218.5,321.3 217.1,320.3 215.8,319.2 214.5,318.1 213.3,317.0 212.0,315.9 210.8,314.7 209.6,313.5 208.5,312.2 207.3,310.8 206.1,309.4 205.0,308.0 203.9,306.5 202.8,305.0 201.7,303.5 200.6,302.0 199.5,300.6 198.5,299.1 197.4,297.6 196.3,296.2 195.3,294.9 194.3,293.6 193.3,292.2 192.4,290.9 191.4,289.6 190.5,288.3 189.6,287.0 188.7,285.7 187.8,284.5 186.9,283.2 186.0,282.0 185.1,280.7 184.2,279.5 183.4,278.3 182.5,277.1 181.7,276.0 180.9,274.8 180.1,273.7 179.3,272.6 178.5,271.4 177.8,270.4 177.0,269.3 176.2,268.2 175.5,267.1 174.7,266.0 173.9,264.9 173.1,263.9 172.4,262.8 171.6,261.7 170.8,260.6 170.0,259.5 169.2,258.4 168.3,257.3 167.5,256.2 166.7,255.1 165.9,254.0 165.1,252.9 164.3,251.9 163.5,250.9 162.7,249.9 162.0,249.0 161.2,248.1 160.5,247.3 159.8,246.5 159.1,245.7 158.4,245.0 157.8,244.3 157.1,243.7 156.4,243.1 155.8,242.5 155.1,241.9 154.5,241.3 153.8,240.7 153.1,240.2 152.4,239.7 151.7,239.1 151.0,238.6 150.2,238.1 149.5,237.6 148.7,237.1 147.9,236.7 147.2,236.2 146.4,235.8 145.6,235.4 144.8,235.0 144.1,234.6 143.3,234.3 142.6,233.9 141.8,233.6 141.1,233.3 140.4,233.0 139.6,232.7 138.9,232.5 138.2,232.2 137.4,232.0 136.7,231.8 136.0,231.6 135.3,231.5 134.6,231.3 134.0,231.2 133.3,231.1 132.7,230.9 132.1,230.8 131.5,230.7 130.8,230.6 130.2,230.5 129.5,230.5 128.9,230.4 128.2,230.4 127.6,230.3 127.0,230.3 126.5,230.3 125.9,230.3 125.5,230.3 125.0,230.3 124.7,230.3 124.4,230.3 124.1,230.3" fill="#e37c72" stroke="#e37c72" stroke-width="0.4"/>
<polygon points="124.1,230.3 124.4,230.3 124.7,230.3 125.0,230.3 125.5,230.3 125.9,230.3 126.5,230.3 127.0,230.3 127.6,230.3 128.2,230.4 128.9,230.4 129.5,230.5 130.2,230.5 130.8,230.6 131.5,230.7 132.1,230.8 132.7,230.9 133.3,231.1 134.0,231.2 134.6,231.3 135.3,231.5 136.0,231.6 136.7,231.8 137.4,232.0 138.2,232.2 138.9,232.5 139.6,232.7 140.4,233.0 141.1,233.3 141.8,233.6 142.6,233.9 143.3,234.3 144.1,234.6 144.8,235.0 145.6,235.4 146.4,235.8 147.2,236.2 147.9,236.7 148.7,237.1 149.5,237.6 150.2,238.1 151.0,238.6 151.7,239.1 152.4,239.7 153.1,240.2 153.8,240.7 154.5,241.3 155.1,241.9 155.8,242.5 156.4,243.1 157.1,243.7 157.8,244.3 158.4,245.0 159.1,245.7 159.8,246.5 160.5,247.3 161.2,248.1 162.0,249.0 162.7,249.9 163.5,250.9 164.3,251.9 165.1,252.9 165.9,254.0 166.7,255.1 167.5,256.2 168.3,257.3 169.2,258.4 170.0,259.5 170.8,260.6 171.6,261.7 172.4,262.8 173.1,263.9 173.9,264.9 174.7,266.0 175.5,267.1 176.2,268.2 177.0,269.3 177.8,270.4 178.5,271.4 179.3,272.6 180.1,273.7 180.9,274.8 181.7,276.0 182.5,277.1 183.4,278.3 184.2,279.5 185.1,280.7 186.0,282.0 186.9,283.2 187.8,284.5 188.7,285.7 189.6,287.0 190.5,288.3 191.4,289.6 192.4,290.9 193.3,292.2 194.3,293.6 195.3,294.9 196.3,296.2 197.4,297.6 198.5,299.1 199.5,300.6 200.6,302.0 201.7,303.5 202.8,305.0 203.9,306.5 205.0,308.0 206.1,309.4 207.3,310.8 208.5,312.2 209.6,313.5 210.8,314.7 212.0,315.9 213.3,317.0 214.5,318.1 215.8,319.2 217.1,320.3 218.5,321.3 219.8,322.3 221.2,323.3 222.5,324.2 223.9,325.1 225.3,326.0 226.8,326.7 228.2,327.5 229.6,328.2 231.1,328.8 232.6,329.4 234.2,329.9 235.7,330.4 237.3,330.9 239.0,331.3 240.6,331.7 242.3,332.0 244.0,332.3 245.6,332.6 247.3,332.8 249.0,332.9 250.7,333.0 252.3,333.1 254.0,333.1 255.6,333.0 257.3,332.9 259.0,332.8 260.7,332.6 262.4,332.4 264.1,332.1 265.8,331.8 267.5,331.5 269.1,331.0 270.7,330.6 272.3,330.1 273.9,329.6 275.3,329.0 276.8,328.4 278.1,327.7 279.4,326.9 280.8,326.1 282.0,325.2 283.3,324.3 284.6,323.3 285.8,322.3 287.0,321.2 288.2,320.2 289.4,319.0 290.5,317.9 291.7,316.8 292.8,315.6 293.9,314.5 294.9,313.4 295.9,312.3 296.8,311.1 297.7,310.0 298.6,308.8 299.5,307.6 300.4,306.4 301.2,305.2 302.1,303.9 302.9,302.6 303.8,301.3 304.7,300.0 305.7,298.7 306.6,297.3 307.6,295.9 308.6,294.6 309.5,293.2 310.5,291.8 311.5,290.4 312.5,289.0 313.5,287.5 314.5,286.1 315.6,284.7 316.6,283.2 317.6,281.7 318.6,280.3 319.6,278.8 320.6,277.3 321.6,275.9 322.6,274.4 323.7,272.8 324.7,271.3 325.8,269.8 326.8,268.3 327.9,266.7 328.9,265.2 329.9,263.7 330.9,262.2 331.9,260.7 332.8,259.3 333.7,257.9 334.5,256.5 335.3,255.2 336.0,253.8 336.8,252.5 337.5,251.2 338.2,249.9 338.8,248.6 339.5,247.4 340.1,246.1 340.7,244.9 341.2,243.7 341.8,242.5 342.3,241.3 342.8,240.1 343.3,238.9 343.7,237.7 344.2,236.6 344.6,235.4 345.0,234.2 345.4,233.0 345.7,231.8 346.1,230.7 346.4,229.6 346.7,228.4 347.0,227.4 347.2,226.3 347.5,225.3 347.7,224.3 347.9,223.4 348.1,222.5 348.3,221.7 348.4,221.0 348.5,220.3 348.6,219.6 348.7,219.0 348.8,218.3 348.8,217.7 348.9,217.1 348.9,216.5 349.0,215.9 349.0,215.2 349.0,214.5 349.1,213.8 349.1,213.1 349.1,212.4 349.2,211.6 349.2,210.8 349.2,210.0 349.2,209.2 349.2,208.4 349.1,207.6 349.1,206.9 349.1,206.2 349.1,205.5 349.1,205.0 349.1,204.4 349.1,204.0 354.9,204.0 354.9,204.4 354.9,204.9 354.9,205.4 355.0,206.1 355.0,206.8 355.0,207.5 355.0,208.3 355.0,209.2 355.0,210.0 355.0,210.9 355.0,211.7 355.0,212.6 355.0,213.4 354.9,214.2 354.9,214.9 354.8,215.5 354.8,216.2 354.8,216.9 354.7,217.5 354.7,218.2 354.6,218.9 354.5,219.6 354.4,220.4 354.3,221.1 354.2,222.0 354.0,222.8 353.9,223.7 353.7,224.6 353.4,225.6 353.2,226.6 352.9,227.7 352.6,228.8 352.4,229.9 352.0,231.1 351.7,232.3 351.3,233.5 351.0,234.8 350.6,236.0 350.1,237.3 349.7,238.6 349.2,239.8 348.7,241.1 348.2,242.3 347.7,243.6 347.1,244.9 346.5,246.1 345.9,247.4 345.3,248.7 344.7,250.0 344.0,251.3 343.3,252.6 342.6,254.0 341.9,255.3 341.1,256.7 340.3,258.1 339.5,259.5 338.7,260.9 337.7,262.4 336.8,263.9 335.8,265.4 334.8,266.9 333.8,268.5 332.7,270.0 331.7,271.6 330.6,273.1 329.6,274.6 328.5,276.2 327.5,277.7 326.4,279.2 325.4,280.7 324.4,282.1 323.4,283.6 322.4,285.1 321.4,286.5 320.4,288.0 319.3,289.4 318.3,290.9 317.3,292.3 316.3,293.8 315.3,295.2 314.3,296.6 313.3,298.0 312.3,299.4 311.4,300.7 310.4,302.0 309.5,303.3 308.7,304.6 307.8,305.9 306.9,307.2 306.0,308.5 305.1,309.8 304.2,311.0 303.3,312.3 302.4,313.6 301.4,314.8 300.3,316.1 299.2,317.3 298.1,318.5 297.0,319.7 295.8,320.9 294.6,322.1 293.4,323.2 292.2,324.4 290.9,325.6 289.6,326.8 288.2,327.9 286.8,329.0 285.4,330.0 283.9,331.0 282.4,332.0 280.8,332.9 279.2,333.6 277.6,334.4 275.9,335.0 274.2,335.6 272.4,336.2 270.6,336.7 268.8,337.2 267.0,337.6 265.1,337.9 263.2,338.2 261.4,338.4 259.5,338.6 257.7,338.8 255.8,338.9 254.0,338.9 252.2,338.9 250.4,338.9 248.6,338.7 246.7,338.6 244.9,338.4 243.0,338.1 241.2,337.8 239.4,337.4 237.6,337.0 235.8,336.5 234.0,336.0 232.3,335.5 230.6,334.9 228.9,334.2 227.2,333.5 225.6,332.7 224.0,331.9 222.4,331.0 220.9,330.1 219.3,329.1 217.8,328.1 216.4,327.1 214.9,326.0 213.5,324.9 212.1,323.7 210.7,322.6 209.3,321.4 208.0,320.1 206.7,318.8 205.3,317.5 204.1,316.0 202.8,314.6 201.6,313.1 200.4,311.6 199.2,310.0 198.1,308.5 197.0,307.0 195.9,305.5 194.8,304.0 193.7,302.5 192.7,301.1 191.7,299.8 190.6,298.4 189.6,297.0 188.6,295.7 187.6,294.4 186.7,293.0 185.7,291.7 184.8,290.4 183.9,289.1 183.0,287.9 182.1,286.6 181.2,285.3 180.3,284.1 179.5,282.9 178.6,281.7 177.8,280.5 176.9,279.3 176.1,278.2 175.3,277.0 174.5,275.9 173.8,274.8 173.0,273.7 172.2,272.6 171.5,271.5 170.7,270.5 169.9,269.4 169.2,268.3 168.4,267.3 167.6,266.2 166.8,265.1 166.0,264.0 165.2,262.9 164.4,261.8 163.6,260.7 162.8,259.6 162.0,258.6 161.2,257.5 160.5,256.5 159.7,255.5 158.9,254.5 158.2,253.6 157.5,252.7 156.8,251.9 156.1,251.1 155.5,250.4 154.8,249.7 154.2,249.1 153.6,248.5 153.0,247.9 152.4,247.3 151.9,246.8 151.3,246.3 150.7,245.8 150.1,245.3 149.5,244.8 148.9,244.3 148.3,243.9 147.6,243.4 147.0,243.0 146.3,242.5 145.7,242.1 145.0,241.7 144.3,241.3 143.6,240.9 142.9,240.6 142.2,240.2 141.5,239.9 140.9,239.6 140.2,239.3 139.5,239.0 138.9,238.7 138.3,238.5 137.7,238.2 137.0,238.0 136.4,237.8 135.8,237.6 135.2,237.5 134.6,237.3 134.0,237.2 133.4,237.0 132.8,236.9 132.2,236.8 131.6,236.7 131.1,236.6 130.5,236.5 130.0,236.4 129.5,236.3 129.0,236.3 128.4,236.2 127.9,236.2 127.4,236.2 126.9,236.2 126.4,236.2 125.9,236.2 125.4,236.2 125.0,236.1 124.6,236.1 124.2,236.1 123.9,236.1" fill="#879ec7" stroke="#879ec7" stroke-width="0.4"/>
<polygon points="123.9,236.1 124.2,236.1 124.6,236.1 125.0,236.1 125.4,236.2 125.9,236.2 126.4,236.2 126.9,236.2 127.4,236.2 127.9,236.2 128.4,236.2 129.0,236.3 129.5,236.3 130.0,236.4 130.5,236.5 131.1,236.6 131.6,236.7 132.2,236.8 132.8,236.9 133.4,237.0 134.0,237.2 134.6,237.3 135.2,237.5 135.8,237.6 136.4,237.8 137.0,238.0 137.7,238.2 138.3,238.5 138.9,238.7 139.5,239.0 140.2,239.3 140.9,239.6 141.5,239.9 142.2,240.2 142.9,240.6 143.6,240.9 144.3,241.3 145.0,241.7 145.7,242.1 146.3,242.5 147.0,243.0 147.6,243.4 148.3,243.9 148.9,244.3 149.5,244.8 150.1,245.3 150.7,245.8 151.3,246.3 151.9,246.8 152.4,247.3 153.0,247.9 153.6,248.5 154.2,249.1 154.8,249.7 155.5,250.4 156.1,251.1 156.8,251.9 157.5,252.7 158.2,253.6 158.9,254.5 159.7,255.5 160.5,256.5 161.2,257.5 162.0,258.6 162.8,259.6 163.6,260.7 164.4,261.8 165.2,262.9 166.0,264.0 166.8,265.1 167.6,266.2 168.4,267.3 169.2,268.3 169.9,269.4 170.7,270.5 171.5,271.5 172.2,272.6 173.0,273.7 173.8,274.8 174.5,275.9 175.3,277.0 176.1,278.2 176.9,279.3 177.8,280.5 178.6,281.7 179.5,282.9 180.3,284.1 181.2,285.3 182.1,286.6 183.0,287.9 183.9,289.1 184.8,290.4 185.7,291.7 186.7,293.0 187.6,294.4 188.6,295.7 189.6,297.0 190.6,298.4 191.7,299.8 192.7,301.1 193.7,302.5 194.8,304.0 195.9,305.5 197.0,307.0 198.1,308.5 199.2,310.0 200.4,311.6 201.6,313.1 202.8,314.6 204.1,316.0 205.3,317.5 206.7,318.8 208.0,320.1 209.3,321.4 210.7,322.6 212.1,323.7 213.5,324.9 214.9,326.0 216.4,327.1 217.8,328.1 219.3,329.1 220.9,330.1 222.4,331.0 224.0,331.9 225.6,332.7 227.2,333.5 228.9,334.2 230.6,334.9 232.3,335.5 234.0,336.0 235.8,336.5 237.6,337.0 239.4,337.4 241.2,337.8 243.0,338.1 244.9,338.4 246.7,338.6 248.6,338.7 250.4,338.9 252.2,338.9 254.0,338.9 255.8,338.9 257.7,338.8 259.5,338.6 261.4,338.4 263.2,338.2 265.1,337.9 267.0,337.6 268.8,337.2 270.6,336.7 272.4,336.2 274.2,335.6 275.9,335.0 277.6,334.4 279.2,333.6 280.8,332.9 282.4,332.0 283.9,331.0 285.4,330.0 286.8,329.0 288.2,327.9 289.6,326.8 290.9,325.6 292.2,324.4 293.4,323.2 294.6,322.1 295.8,320.9 297.0,319.7 298.1,318.5 299.2,317.3 300.3,316.1 301.4,314.8 302.4,313.6 303.3,312.3 304.2,311.0 305.1,309.8 306.0,308.5 306.9,307.2 307.8,305.9 308.7,304.6 309.5,303.3 310.4,302.0 311.4,300.7 312.3,299.4 313.3,298.0 314.3,296.6 315.3,295.2 316.3,293.8 317.3,292.3 318.3,290.9 319.3,289.4 320.4,288.0 321.4,286.5 322.4,285.1 323.4,283.6 324.4,282.1 325.4,280.7 326.4,279.2 327.5,277.7 328.5,276.2 329.6,274.6 330.6,273.1 331.7,271.6 332.7,270.0 333.8,268.5 334.8,266.9 335.8,265.4 336.8,263.9 337.7,262.4 338.7,260.9 339.5,259.5 340.3,258.1 341.1,256.7 341.9,255.3 342.6,254.0 343.3,252.6 344.0,251.3 344.7,250.0 345.3,248.7 345.9,247.4 346.5,246.1 347.1,244.9 347.7,243.6 348.2,242.3 348.7,241.1 349.2,239.8 349.7,238.6 350.1,237.3 350.6,236.0 351.0,234.8 351.3,233.5 351.7,232.3 352.0,231.1 352.4,229.9 352.6,228.8 352.9,227.7 353.2,226.6 353.4,225.6 353.7,224.6 353.9,223.7 354.0,222.8 354.2,222.0 354.3,221.1 354.4,220.4 354.5,219.6 354.6,218.9 354.7,218.2 354.7,217.5 354.8,216.9 354.8,216.2 354.8,215.5 354.9,214.9 354.9,214.2 355.0,213.4 355.0,212.6 355.0,211.7 355.0,210.9 355.0,210.0 355.0,209.2 355.0,208.3 355.0,207.5 355.0,206.8 355.0,206.1 354.9,205.4 354.9,204.9 354.9,204.4 354.9,204.0 360.8,203.9 360.8,204.3 360.8,204.8 360.8,205.3 360.8,205.9 360.8,206.7 360.8,207.4 360.8,208.3 360.9,209.1 360.9,210.0 360.9,210.9 360.9,211.8 360.8,212.7 360.8,213.6 360.8,214.5 360.7,215.2 360.7,215.9 360.6,216.5 360.6,217.2 360.6,217.9 360.5,218.7 360.4,219.5 360.3,220.3 360.2,221.2 360.1,222.0 360.0,223.0 359.8,223.9 359.6,224.9 359.4,225.9 359.1,227.0 358.9,228.0 358.6,229.1 358.3,230.3 358.0,231.4 357.7,232.7 357.3,233.9 356.9,235.2 356.5,236.5 356.1,237.8 355.7,239.2 355.2,240.6 354.7,241.9 354.1,243.3 353.6,244.6 353.0,245.9 352.5,247.2 351.9,248.6 351.2,249.9 350.6,251.2 349.9,252.6 349.2,254.0 348.5,255.3 347.8,256.7 347.0,258.1 346.2,259.6 345.4,261.0 344.6,262.5 343.6,264.0 342.7,265.5 341.7,267.1 340.7,268.6 339.7,270.2 338.6,271.7 337.6,273.3 336.5,274.9 335.4,276.4 334.4,278.0 333.3,279.5 332.3,281.0 331.2,282.5 330.2,284.0 329.2,285.4 328.2,286.9 327.2,288.4 326.2,289.9 325.2,291.3 324.1,292.8 323.1,294.2 322.1,295.7 321.1,297.1 320.1,298.6 319.1,300.0 318.1,301.4 317.1,302.8 316.1,304.1 315.2,305.4 314.4,306.6 313.5,307.9 312.6,309.2 311.8,310.5 310.9,311.8 309.9,313.1 309.0,314.5 308.0,315.8 307.0,317.2 305.9,318.5 304.8,319.9 303.6,321.3 302.3,322.6 301.2,323.8 300.0,325.0 298.8,326.2 297.5,327.5 296.2,328.7 294.8,330.0 293.4,331.2 291.9,332.4 290.4,333.6 288.8,334.8 287.1,335.9 285.4,337.0 283.6,338.0 281.7,338.9 279.8,339.8 278.0,340.5 276.0,341.2 274.1,341.8 272.1,342.4 270.1,342.9 268.1,343.3 266.1,343.7 264.1,344.0 262.1,344.3 260.1,344.5 258.1,344.6 256.1,344.7 254.1,344.8 252.1,344.8 250.1,344.7 248.1,344.6 246.1,344.4 244.1,344.2 242.1,343.9 240.1,343.5 238.2,343.1 236.2,342.7 234.2,342.2 232.3,341.6 230.4,341.0 228.5,340.3 226.7,339.6 224.8,338.8 223.0,338.0 221.2,337.1 219.5,336.1 217.8,335.1 216.1,334.0 214.5,332.9 212.9,331.8 211.4,330.6 209.8,329.4 208.3,328.2 206.9,327.0 205.4,325.7 204.0,324.4 202.5,323.0 201.1,321.4 199.7,319.9 198.3,318.3 197.0,316.7 195.8,315.2 194.6,313.6 193.4,312.0 192.2,310.4 191.1,308.9 190.1,307.4 189.0,306.0 188.0,304.6 187.0,303.3 186.0,301.9 184.9,300.5 183.9,299.2 182.9,297.8 181.9,296.5 181.0,295.1 180.0,293.8 179.1,292.5 178.2,291.2 177.3,290.0 176.4,288.7 175.6,287.5 174.7,286.3 173.9,285.1 173.0,283.9 172.2,282.7 171.3,281.6 170.5,280.4 169.7,279.3 169.0,278.2 168.2,277.1 167.4,276.0 166.7,274.9 165.9,273.9 165.2,272.8 164.4,271.8 163.7,270.7 162.9,269.7 162.1,268.6 161.3,267.5 160.5,266.4 159.7,265.3 158.9,264.2 158.1,263.1 157.3,262.1 156.6,261.0 155.8,260.0 155.1,259.1 154.4,258.1 153.7,257.3 153.0,256.5 152.4,255.7 151.7,255.0 151.1,254.4 150.5,253.7 150.0,253.1 149.4,252.6 148.9,252.1 148.4,251.6 147.9,251.1 147.4,250.7 146.9,250.2 146.4,249.8 145.9,249.4 145.4,249.0 144.8,248.6 144.3,248.2 143.7,247.8 143.2,247.5 142.6,247.1 142.0,246.8 141.4,246.4 140.8,246.1 140.2,245.8 139.6,245.5 139.0,245.2 138.4,244.9 137.8,244.6 137.2,244.3 136.7,244.1 136.2,243.9 135.7,243.7 135.2,243.6 134.7,243.4 134.2,243.3 133.7,243.1 133.2,243.0 132.7,242.9 132.2,242.8 131.6,242.6 131.1,242.5 130.6,242.4 130.0,242.3 129.6,242.3 129.2,242.2 128.8,242.2 128.5,242.1 128.0,242.1 127.6,242.1 127.2,242.0 126.7,242.0 126.2,242.0 125.8,242.0 125.4,242.0 124.9,242.0 124.5,242.0 124.0,242.0 123.6,242.0" fill="#879ec7" stroke="#879ec7" stroke-width="0.4"/>
<polyline points="124.4,224.4 124.5,224.4 124.8,224.4 125.1,224.4 125.5,224.5 126.0,224.5 126.6,224.5 127.2,224.5 127.8,224.5 128.5,224.5 129.3,224.6 130.0,224.6 130.8,224.7 131.7,224.8 132.4,224.9 133.1,225.1 133.8,225.2 134.5,225.3 135.2,225.5 135.9,225.6 136.6,225.8 137.4,226.0 138.2,226.2 139.0,226.4 139.9,226.6 140.7,226.9 141.6,227.2 142.5,227.5 143.3,227.9 144.2,228.2 145.0,228.6 145.8,229.0 146.6,229.3 147.5,229.8 148.3,230.2 149.2,230.6 150.0,231.1 150.9,231.6 151.8,232.1 152.6,232.7 153.5,233.2 154.3,233.8 155.2,234.4 156.0,235.0 156.7,235.6 157.5,236.2 158.2,236.8 159.0,237.5 159.7,238.1 160.5,238.8 161.2,239.5 161.9,240.2 162.6,241.0 163.4,241.7 164.1,242.5 164.9,243.4 165.6,244.3 166.4,245.2 167.3,246.2 168.1,247.2 168.9,248.3 169.8,249.4 170.6,250.5 171.4,251.6 172.2,252.7 173.1,253.8 173.9,254.9 174.7,256.1 175.5,257.2 176.3,258.2 177.1,259.3 177.9,260.4 178.7,261.5 179.5,262.6 180.2,263.7 181.0,264.8 181.8,265.9 182.6,267.0 183.3,268.1 184.1,269.2 184.9,270.3 185.7,271.4 186.5,272.6 187.3,273.7 188.1,274.9 189.0,276.1 189.9,277.3 190.8,278.6 191.6,279.8 192.5,281.1 193.4,282.4 194.3,283.6 195.2,284.9 196.2,286.2 197.1,287.5 198.0,288.8 199.0,290.1 200.0,291.4 201.0,292.7 202.1,294.1 203.2,295.6 204.3,297.1 205.3,298.6 206.4,300.1 207.5,301.6 208.6,303.0 209.6,304.4 210.7,305.8 211.8,307.1 212.8,308.3 213.9,309.5 214.9,310.6 216.0,311.6 217.2,312.7 218.4,313.7 219.6,314.7 220.8,315.7 222.0,316.7 223.2,317.6 224.5,318.5 225.7,319.3 227.0,320.1 228.2,320.9 229.5,321.6 230.8,322.2 232.0,322.8 233.3,323.4 234.7,323.9 236.0,324.4 237.4,324.8 238.9,325.3 240.4,325.6 241.8,326.0 243.4,326.3 244.9,326.5 246.4,326.8 247.9,326.9 249.4,327.1 251.0,327.2 252.4,327.2 253.9,327.2 255.4,327.2 256.9,327.1 258.4,327.0 260.0,326.8 261.6,326.6 263.1,326.4 264.6,326.1 266.2,325.8 267.6,325.4 269.1,325.0 270.5,324.5 271.8,324.1 273.1,323.6 274.3,323.1 275.4,322.5 276.5,321.9 277.6,321.2 278.7,320.5 279.8,319.7 280.9,318.8 282.0,317.9 283.1,316.9 284.2,315.9 285.3,314.8 286.4,313.7 287.5,312.6 288.6,311.5 289.7,310.4 290.6,309.4 291.4,308.5 292.3,307.5 293.1,306.4 293.9,305.3 294.7,304.2 295.6,303.1 296.4,301.9 297.2,300.6 298.1,299.4 299.0,298.0 299.9,296.7 300.9,295.3 301.9,293.9 302.8,292.5 303.8,291.2 304.8,289.8 305.8,288.4 306.8,287.0 307.7,285.6 308.7,284.2 309.7,282.8 310.8,281.3 311.8,279.9 312.8,278.4 313.8,277.0 314.8,275.5 315.8,274.0 316.8,272.6 317.8,271.0 318.9,269.5 319.9,268.0 321.0,266.5 322.0,265.0 323.1,263.4 324.1,261.9 325.1,260.5 326.0,259.0 326.9,257.6 327.8,256.2 328.7,254.8 329.4,253.5 330.2,252.2 330.9,250.9 331.6,249.7 332.3,248.4 333.0,247.2 333.6,246.0 334.2,244.8 334.8,243.6 335.4,242.4 335.9,241.3 336.4,240.1 336.9,239.0 337.4,237.8 337.9,236.7 338.3,235.6 338.7,234.6 339.1,233.5 339.4,232.4 339.8,231.3 340.1,230.2 340.5,229.1 340.8,228.0 341.0,226.9 341.3,225.9 341.6,224.9 341.8,223.9 342.0,222.9 342.2,222.1 342.4,221.3 342.6,220.6 342.7,220.0 342.8,219.4 342.8,218.8 342.9,218.3 343.0,217.8 343.0,217.2 343.1,216.7 343.1,216.1 343.1,215.5 343.2,214.9 343.2,214.2 343.2,213.5 343.3,212.9 343.3,212.2 343.3,211.5 343.3,210.8 343.3,210.0 343.3,209.3 343.3,208.5 343.3,207.7 343.3,207.0 343.3,206.3 343.2,205.7 343.2,205.1 343.2,204.5 343.2,204.1" fill="none" stroke="#3a3940" stroke-width="1.1" stroke-linejoin="round"/>
<polyline points="124.1,230.3 124.4,230.3 124.7,230.3 125.0,230.3 125.5,230.3 125.9,230.3 126.5,230.3 127.0,230.3 127.6,230.3 128.2,230.4 128.9,230.4 129.5,230.5 130.2,230.5 130.8,230.6 131.5,230.7 132.1,230.8 132.7,230.9 133.3,231.1 134.0,231.2 134.6,231.3 135.3,231.5 136.0,231.6 136.7,231.8 137.4,232.0 138.2,232.2 138.9,232.5 139.6,232.7 140.4,233.0 141.1,233.3 141.8,233.6 142.6,233.9 143.3,234.3 144.1,234.6 144.8,235.0 145.6,235.4 146.4,235.8 147.2,236.2 147.9,236.7 148.7,237.1 149.5,237.6 150.2,238.1 151.0,238.6 151.7,239.1 152.4,239.7 153.1,240.2 153.8,240.7 154.5,241.3 155.1,241.9 155.8,242.5 156.4,243.1 157.1,243.7 157.8,244.3 158.4,245.0 159.1,245.7 159.8,246.5 160.5,247.3 161.2,248.1 162.0,249.0 162.7,249.9 163.5,250.9 164.3,251.9 165.1,252.9 165.9,254.0 166.7,255.1 167.5,256.2 168.3,257.3 169.2,258.4 170.0,259.5 170.8,260.6 171.6,261.7 172.4,262.8 173.1,263.9 173.9,264.9 174.7,266.0 175.5,267.1 176.2,268.2 177.0,269.3 177.8,270.4 178.5,271.4 179.3,272.6 180.1,273.7 180.9,274.8 181.7,276.0 182.5,277.1 183.4,278.3 184.2,279.5 185.1,280.7 186.0,282.0 186.9,283.2 187.8,284.5 188.7,285.7 189.6,287.0 190.5,288.3 191.4,289.6 192.4,290.9 193.3,292.2 194.3,293.6 195.3,294.9 196.3,296.2 197.4,297.6 198.5,299.1 199.5,300.6 200.6,302.0 201.7,303.5 202.8,305.0 203.9,306.5 205.0,308.0 206.1,309.4 207.3,310.8 208.5,312.2 209.6,313.5 210.8,314.7 212.0,315.9 213.3,317.0 214.5,318.1 215.8,319.2 217.1,320.3 218.5,321.3 219.8,322.3 221.2,323.3 222.5,324.2 223.9,325.1 225.3,326.0 226.8,326.7 228.2,327.5 229.6,328.2 231.1,328.8 232.6,329.4 234.2,329.9 235.7,330.4 237.3,330.9 239.0,331.3 240.6,331.7 242.3,332.0 244.0,332.3 245.6,332.6 247.3,332.8 249.0,332.9 250.7,333.0 252.3,333.1 254.0,333.1 255.6,333.0 257.3,332.9 259.0,332.8 260.7,332.6 262.4,332.4 264.1,332.1 265.8,331.8 267.5,331.5 269.1,331.0 270.7,330.6 272.3,330.1 273.9,329.6 275.3,329.0 276.8,328.4 278.1,327.7 279.4,326.9 280.8,326.1 282.0,325.2 283.3,324.3 284.6,323.3 285.8,322.3 287.0,321.2 288.2,320.2 289.4,319.0 290.5,317.9 291.7,316.8 292.8,315.6 293.9,314.5 294.9,313.4 295.9,312.3 296.8,311.1 297.7,310.0 298.6,308.8 299.5,307.6 300.4,306.4 301.2,305.2 302.1,303.9 302.9,302.6 303.8,301.3 304.7,300.0 305.7,298.7 306.6,297.3 307.6,295.9 308.6,294.6 309.5,293.2 310.5,291.8 311.5,290.4 312.5,289.0 313.5,287.5 314.5,286.1 315.6,284.7 316.6,283.2 317.6,281.7 318.6,280.3 319.6,278.8 320.6,277.3 321.6,275.9 322.6,274.4 323.7,272.8 324.7,271.3 325.8,269.8 326.8,268.3 327.9,266.7 328.9,265.2 329.9,263.7 330.9,262.2 331.9,260.7 332.8,259.3 333.7,257.9 334.5,256.5 335.3,255.2 336.0,253.8 336.8,252.5 337.5,251.2 338.2,249.9 338.8,248.6 339.5,247.4 340.1,246.1 340.7,244.9 341.2,243.7 341.8,242.5 342.3,241.3 342.8,240.1 343.3,238.9 343.7,237.7 344.2,236.6 344.6,235.4 345.0,234.2 345.4,233.0 345.7,231.8 346.1,230.7 346.4,229.6 346.7,228.4 347.0,227.4 347.2,226.3 347.5,225.3 347.7,224.3 347.9,223.4 348.1,222.5 348.3,221.7 348.4,221.0 348.5,220.3 348.6,219.6 348.7,219.0 348.8,218.3 348.8,217.7 348.9,217.1 348.9,216.5 349.0,215.9 349.0,215.2 349.0,214.5 349.1,213.8 349.1,213.1 349.1,212.4 349.2,211.6 349.2,210.8 349.2,210.0 349.2,209.2 349.2,208.4 349.1,207.6 349.1,206.9 349.1,206.2 349.1,205.5 349.1,205.0 349.1,204.4 349.1,204.0" fill="none" stroke="#3a3940" stroke-width="1.1" stroke-linejoin="round"/>
<polyline points="123.9,236.1 124.2,236.1 124.6,236.1 125.0,236.1 125.4,236.2 125.9,236.2 126.4,236.2 126.9,236.2 127.4,236.2 127.9,236.2 128.4,236.2 129.0,236.3 129.5,236.3 130.0,236.4 130.5,236.5 131.1,236.6 131.6,236.7 132.2,236.8 132.8,236.9 133.4,237.0 134.0,237.2 134.6,237.3 135.2,237.5 135.8,237.6 136.4,237.8 137.0,238.0 137.7,238.2 138.3,238.5 138.9,238.7 139.5,239.0 140.2,239.3 140.9,239.6 141.5,239.9 142.2,240.2 142.9,240.6 143.6,240.9 144.3,241.3 145.0,241.7 145.7,242.1 146.3,242.5 147.0,243.0 147.6,243.4 148.3,243.9 148.9,244.3 149.5,244.8 150.1,245.3 150.7,245.8 151.3,246.3 151.9,246.8 152.4,247.3 153.0,247.9 153.6,248.5 154.2,249.1 154.8,249.7 155.5,250.4 156.1,251.1 156.8,251.9 157.5,252.7 158.2,253.6 158.9,254.5 159.7,255.5 160.5,256.5 161.2,257.5 162.0,258.6 162.8,259.6 163.6,260.7 164.4,261.8 165.2,262.9 166.0,264.0 166.8,265.1 167.6,266.2 168.4,267.3 169.2,268.3 169.9,269.4 170.7,270.5 171.5,271.5 172.2,272.6 173.0,273.7 173.8,274.8 174.5,275.9 175.3,277.0 176.1,278.2 176.9,279.3 177.8,280.5 178.6,281.7 179.5,282.9 180.3,284.1 181.2,285.3 182.1,286.6 183.0,287.9 183.9,289.1 184.8,290.4 185.7,291.7 186.7,293.0 187.6,294.4 188.6,295.7 189.6,297.0 190.6,298.4 191.7,299.8 192.7,301.1 193.7,302.5 194.8,304.0 195.9,305.5 197.0,307.0 198.1,308.5 199.2,310.0 200.4,311.6 201.6,313.1 202.8,314.6 204.1,316.0 205.3,317.5 206.7,318.8 208.0,320.1 209.3,321.4 210.7,322.6 212.1,323.7 213.5,324.9 214.9,326.0 216.4,327.1 217.8,328.1 219.3,329.1 220.9,330.1 222.4,331.0 224.0,331.9 225.6,332.7 227.2,333.5 228.9,334.2 230.6,334.9 232.3,335.5 234.0,336.0 235.8,336.5 237.6,337.0 239.4,337.4 241.2,337.8 243.0,338.1 244.9,338.4 246.7,338.6 248.6,338.7 250.4,338.9 252.2,338.9 254.0,338.9 255.8,338.9 257.7,338.8 259.5,338.6 261.4,338.4 263.2,338.2 265.1,337.9 267.0,337.6 268.8,337.2 270.6,336.7 272.4,336.2 274.2,335.6 275.9,335.0 277.6,334.4 279.2,333.6 280.8,332.9 282.4,332.0 283.9,331.0 285.4,330.0 286.8,329.0 288.2,327.9 289.6,326.8 290.9,325.6 292.2,324.4 293.4,323.2 294.6,322.1 295.8,320.9 297.0,319.7 298.1,318.5 299.2,317.3 300.3,316.1 301.4,314.8 302.4,313.6 303.3,312.3 304.2,311.0 305.1,309.8 306.0,308.5 306.9,307.2 307.8,305.9 308.7,304.6 309.5,303.3 310.4,302.0 311.4,300.7 312.3,299.4 313.3,298.0 314.3,296.6 315.3,295.2 316.3,293.8 317.3,292.3 318.3,290.9 319.3,289.4 320.4,288.0 321.4,286.5 322.4,285.1 323.4,283.6 324.4,282.1 325.4,280.7 326.4,279.2 327.5,277.7 328.5,276.2 329.6,274.6 330.6,273.1 331.7,271.6 332.7,270.0 333.8,268.5 334.8,266.9 335.8,265.4 336.8,263.9 337.7,262.4 338.7,260.9 339.5,259.5 340.3,258.1 341.1,256.7 341.9,255.3 342.6,254.0 343.3,252.6 344.0,251.3 344.7,250.0 345.3,248.7 345.9,247.4 346.5,246.1 347.1,244.9 347.7,243.6 348.2,242.3 348.7,241.1 349.2,239.8 349.7,238.6 350.1,237.3 350.6,236.0 351.0,234.8 351.3,233.5 351.7,232.3 352.0,231.1 352.4,229.9 352.6,228.8 352.9,227.7 353.2,226.6 353.4,225.6 353.7,224.6 353.9,223.7 354.0,222.8 354.2,222.0 354.3,221.1 354.4,220.4 354.5,219.6 354.6,218.9 354.7,218.2 354.7,217.5 354.8,216.9 354.8,216.2 354.8,215.5 354.9,214.9 354.9,214.2 355.0,213.4 355.0,212.6 355.0,211.7 355.0,210.9 355.0,210.0 355.0,209.2 355.0,208.3 355.0,207.5 355.0,206.8 355.0,206.1 354.9,205.4 354.9,204.9 354.9,204.4 354.9,204.0" fill="none" stroke="#3a3940" stroke-width="1.1" stroke-linejoin="round"/>
<polyline points="123.6,242.0 124.0,242.0 124.5,242.0 124.9,242.0 125.4,242.0 125.8,242.0 126.2,242.0 126.7,242.0 127.2,242.0 127.6,242.1 128.0,242.1 128.5,242.1 128.8,242.2 129.2,242.2 129.6,242.3 130.0,242.3 130.6,242.4 131.1,242.5 131.6,242.6 132.2,242.8 132.7,242.9 133.2,243.0 133.7,243.1 134.2,243.3 134.7,243.4 135.2,243.6 135.7,243.7 136.2,243.9 136.7,244.1 137.2,244.3 137.8,244.6 138.4,244.9 139.0,245.2 139.6,245.5 140.2,245.8 140.8,246.1 141.4,246.4 142.0,246.8 142.6,247.1 143.2,247.5 143.7,247.8 144.3,248.2 144.8,248.6 145.4,249.0 145.9,249.4 146.4,249.8 146.9,250.2 147.4,250.7 147.9,251.1 148.4,251.6 148.9,252.1 149.4,252.6 150.0,253.1 150.5,253.7 151.1,254.4 151.7,255.0 152.4,255.7 153.0,256.5 153.7,257.3 154.4,258.1 155.1,259.1 155.8,260.0 156.6,261.0 157.3,262.1 158.1,263.1 158.9,264.2 159.7,265.3 160.5,266.4 161.3,267.5 162.1,268.6 162.9,269.7 163.7,270.7 164.4,271.8 165.2,272.8 165.9,273.9 166.7,274.9 167.4,276.0 168.2,277.1 169.0,278.2 169.7,279.3 170.5,280.4 171.3,281.6 172.2,282.7 173.0,283.9 173.9,285.1 174.7,286.3 175.6,287.5 176.4,288.7 177.3,290.0 178.2,291.2 179.1,292.5 180.0,293.8 181.0,295.1 181.9,296.5 182.9,297.8 183.9,299.2 184.9,300.5 186.0,301.9 187.0,303.3 188.0,304.6 189.0,306.0 190.1,307.4 191.1,308.9 192.2,310.4 193.4,312.0 194.6,313.6 195.8,315.2 197.0,316.7 198.3,318.3 199.7,319.9 201.1,321.4 202.5,323.0 204.0,324.4 205.4,325.7 206.9,327.0 208.3,328.2 209.8,329.4 211.4,330.6 212.9,331.8 214.5,332.9 216.1,334.0 217.8,335.1 219.5,336.1 221.2,337.1 223.0,338.0 224.8,338.8 226.7,339.6 228.5,340.3 230.4,341.0 232.3,341.6 234.2,342.2 236.2,342.7 238.2,343.1 240.1,343.5 242.1,343.9 244.1,344.2 246.1,344.4 248.1,344.6 250.1,344.7 252.1,344.8 254.1,344.8 256.1,344.7 258.1,344.6 260.1,344.5 262.1,344.3 264.1,344.0 266.1,343.7 268.1,343.3 270.1,342.9 272.1,342.4 274.1,341.8 276.0,341.2 278.0,340.5 279.8,339.8 281.7,338.9 283.6,338.0 285.4,337.0 287.1,335.9 288.8,334.8 290.4,333.6 291.9,332.4 293.4,331.2 294.8,330.0 296.2,328.7 297.5,327.5 298.8,326.2 300.0,325.0 301.2,323.8 302.3,322.6 303.6,321.3 304.8,319.9 305.9,318.5 307.0,317.2 308.0,315.8 309.0,314.5 309.9,313.1 310.9,311.8 311.8,310.5 312.6,309.2 313.5,307.9 314.4,306.6 315.2,305.4 316.1,304.1 317.1,302.8 318.1,301.4 319.1,300.0 320.1,298.6 321.1,297.1 322.1,295.7 323.1,294.2 324.1,292.8 325.2,291.3 326.2,289.9 327.2,288.4 328.2,286.9 329.2,285.4 330.2,284.0 331.2,282.5 332.3,281.0 333.3,279.5 334.4,278.0 335.4,276.4 336.5,274.9 337.6,273.3 338.6,271.7 339.7,270.2 340.7,268.6 341.7,267.1 342.7,265.5 343.6,264.0 344.6,262.5 345.4,261.0 346.2,259.6 347.0,258.1 347.8,256.7 348.5,255.3 349.2,254.0 349.9,252.6 350.6,251.2 351.2,249.9 351.9,248.6 352.5,247.2 353.0,245.9 353.6,244.6 354.1,243.3 354.7,241.9 355.2,240.6 355.7,239.2 356.1,237.8 356.5,236.5 356.9,235.2 357.3,233.9 357.7,232.7 358.0,231.4 358.3,230.3 358.6,229.1 358.9,228.0 359.1,227.0 359.4,225.9 359.6,224.9 359.8,223.9 360.0,223.0 360.1,222.0 360.2,221.2 360.3,220.3 360.4,219.5 360.5,218.7 360.6,217.9 360.6,217.2 360.6,216.5 360.7,215.9 360.7,215.2 360.8,214.5 360.8,213.6 360.8,212.7 360.9,211.8 360.9,210.9 360.9,210.0 360.9,209.1 360.8,208.3 360.8,207.4 360.8,206.7 360.8,205.9 360.8,205.3 360.8,204.8 360.8,204.3 360.8,203.9" fill="none" stroke="#3a3940" stroke-width="1.1" stroke-linejoin="round"/>
<polygon points="57.3,273.7 59.3,273.7 61.4,273.7 63.4,273.7 65.5,273.7 67.5,273.7 69.6,273.7 71.6,273.7 73.7,273.7 75.7,273.7 77.8,273.7 79.8,273.7 81.9,273.7 83.9,273.7 86.1,273.7 87.6,273.8 89.2,273.9 90.8,274.1 92.3,274.3 93.9,274.7 95.4,275.1 96.9,275.6 98.3,276.1 99.8,276.7 101.2,277.4 102.6,278.1 103.9,278.9 105.2,279.7 106.5,280.6 107.7,281.6 109.0,282.6 110.1,283.6 111.3,284.7 112.4,285.8 113.5,286.9 114.5,288.1 115.5,289.4 116.5,290.7 117.5,292.0 118.4,293.3 119.3,294.7 120.1,296.1 120.9,297.6 121.7,299.1 122.4,300.6 123.1,302.1 123.8,303.7 124.4,305.3 125.0,306.9 125.6,308.6 126.1,310.2 126.6,311.9 127.0,313.6 127.4,315.4 127.8,317.2 128.1,318.9 128.4,320.7 128.7,322.6 128.9,324.4 129.0,326.3 129.2,328.1 129.2,330.0 129.3,331.7 129.4,333.7 129.5,335.9 129.6,338.0 129.7,340.2 129.8,342.3 129.9,344.4 130.0,346.7 130.0,348.2 130.1,349.5 130.2,350.7 130.3,351.9 130.5,353.1 130.7,354.3 131.0,355.5 131.3,356.7 131.7,357.8 132.0,358.9 132.4,360.1 132.9,361.2 133.4,362.2 133.9,363.3 134.4,364.3 135.0,365.4 135.6,366.4 136.3,367.3 136.9,368.3 137.7,369.2 138.4,370.2 139.1,371.0 139.9,371.9 140.7,372.7 141.6,373.6 142.5,374.3 143.3,375.1 144.3,375.8 145.2,376.5 146.2,377.2 147.1,377.8 148.1,378.5 149.2,379.0 150.2,379.6 151.3,380.1 152.3,380.6 153.4,381.0 154.6,381.4 155.7,381.8 156.8,382.1 158.0,382.4 159.2,382.7 160.4,382.9 161.6,383.1 162.8,383.2 164.0,383.3 165.2,383.4 166.6,383.4 168.5,383.4 170.5,383.4 172.5,383.4 174.5,383.4 176.5,383.4 178.5,383.4 180.6,383.4 182.6,383.4 184.6,383.4 186.6,383.4 188.6,383.4 190.6,383.4 192.6,383.4 194.6,383.4 196.6,383.4 198.6,383.4 200.6,383.4 202.6,383.4 204.7,383.4 206.7,383.4 208.7,383.4 210.7,383.4 212.7,383.4 214.7,383.4 216.7,383.4 218.7,383.4 220.7,383.4 222.7,383.4 224.7,383.4 226.7,383.4 228.8,383.4 230.8,383.4 232.8,383.4 234.8,383.4 236.8,383.4 238.8,383.4 240.8,383.4 242.8,383.4 244.8,383.4 246.8,383.4 248.8,383.4 250.8,383.4 252.9,383.4 254.9,383.4 256.9,383.4 258.9,383.4 260.9,383.4 262.9,383.4 264.9,383.4 266.9,383.4 268.9,383.4 270.9,383.4 272.9,383.4 274.9,383.4 276.9,383.4 279.0,383.4 281.0,383.4 283.0,383.4 285.0,383.4 287.0,383.4 289.0,383.4 291.0,383.4 293.0,383.4 295.0,383.4 297.0,383.4 299.0,383.4 301.0,383.4 303.1,383.4 305.1,383.4 307.1,383.4 309.1,383.4 311.1,383.4 313.1,383.4 315.1,383.4 317.1,383.4 319.1,383.4 321.1,383.4 323.1,383.4 325.1,383.4 327.2,383.4 329.2,383.4 331.2,383.4 333.2,383.4 335.2,383.4 337.2,383.4 339.2,383.4 341.2,383.4 343.2,383.4 345.2,383.4 347.2,383.4 349.2,383.4 351.2,383.4 353.3,383.4 355.3,383.4 357.3,383.4 359.3,383.4 361.3,383.4 363.3,383.4 365.3,383.4 367.3,383.4 369.3,383.4 371.3,383.4 373.3,383.4 375.3,383.4 377.4,383.4 379.4,383.4 381.4,383.4 383.4,383.4 385.4,383.4 387.4,383.4 389.4,383.4 391.4,383.4 393.4,383.4 395.4,383.4 397.4,383.4 399.4,383.4 401.5,383.4 403.5,383.4 405.5,383.4 407.5,383.4 409.5,383.4 411.5,383.4 413.5,383.4 415.5,383.4 417.5,383.4 419.5,383.4 419.5,389.3 417.5,389.3 415.5,389.3 413.5,389.3 411.5,389.3 409.5,389.3 407.5,389.3 405.5,389.3 403.5,389.3 401.5,389.3 399.4,389.3 397.4,389.3 395.4,389.3 393.4,389.3 391.4,389.3 389.4,389.3 387.4,389.3 385.4,389.3 383.4,389.3 381.4,389.3 379.4,389.3 377.4,389.3 375.3,389.3 373.3,389.3 371.3,389.3 369.3,389.3 367.3,389.3 365.3,389.3 363.3,389.3 361.3,389.3 359.3,389.3 357.3,389.3 355.3,389.3 353.3,389.3 351.2,389.3 349.2,389.3 347.2,389.3 345.2,389.3 343.2,389.3 341.2,389.3 339.2,389.3 337.2,389.3 335.2,389.3 333.2,389.3 331.2,389.3 329.2,389.3 327.2,389.3 325.1,389.3 323.1,389.3 321.1,389.3 319.1,389.3 317.1,389.3 315.1,389.3 313.1,389.3 311.1,389.3 309.1,389.3 307.1,389.3 305.1,389.3 303.1,389.3 301.0,389.3 299.0,389.3 297.0,389.3 295.0,389.3 293.0,389.3 291.0,389.3 289.0,389.3 287.0,389.3 285.0,389.3 283.0,389.3 281.0,389.3 279.0,389.3 276.9,389.3 274.9,389.3 272.9,389.3 270.9,389.3 268.9,389.3 266.9,389.3 264.9,389.3 262.9,389.3 260.9,389.3 258.9,389.3 256.9,389.3 254.9,389.3 252.9,389.3 250.8,389.3 248.8,389.3 246.8,389.3 244.8,389.3 242.8,389.3 240.8,389.3 238.8,389.3 236.8,389.3 234.8,389.3 232.8,389.3 230.8,389.3 228.8,389.3 226.7,389.3 224.7,389.3 222.7,389.3 220.7,389.3 218.7,389.3 216.7,389.3 214.7,389.3 212.7,389.3 210.7,389.3 208.7,389.3 206.7,389.3 204.7,389.3 202.6,389.3 200.6,389.3 198.6,389.3 196.6,389.3 194.6,389.3 192.6,389.3 190.6,389.3 188.6,389.3 186.6,389.3 184.6,389.3 182.6,389.3 180.6,389.3 178.5,389.3 176.5,389.3 174.5,389.3 172.5,389.3 170.5,389.3 168.5,389.3 166.5,389.3 165.0,389.3 163.6,389.2 162.2,389.1 160.8,388.9 159.4,388.7 158.0,388.4 156.6,388.1 155.3,387.8 153.9,387.4 152.6,386.9 151.3,386.5 150.1,386.0 148.8,385.4 147.6,384.8 146.4,384.2 145.2,383.5 144.0,382.8 142.9,382.1 141.8,381.3 140.7,380.5 139.6,379.6 138.6,378.7 137.6,377.8 136.6,376.9 135.7,375.9 134.8,374.9 133.9,373.9 133.0,372.8 132.2,371.7 131.4,370.6 130.7,369.5 130.0,368.3 129.3,367.1 128.7,365.9 128.1,364.7 127.5,363.4 127.0,362.2 126.5,360.9 126.1,359.6 125.7,358.2 125.3,356.9 125.0,355.5 124.8,354.1 124.5,352.7 124.4,351.3 124.2,349.9 124.2,348.4 124.1,346.9 124.0,344.7 123.9,342.6 123.8,340.4 123.7,338.3 123.6,336.1 123.5,334.0 123.4,331.9 123.4,330.2 123.3,328.5 123.2,326.7 123.1,325.0 122.9,323.3 122.6,321.6 122.4,319.9 122.1,318.3 121.7,316.6 121.4,315.0 120.9,313.5 120.5,311.9 120.0,310.4 119.5,308.8 119.0,307.4 118.4,305.9 117.8,304.5 117.1,303.1 116.5,301.7 115.8,300.4 115.0,299.1 114.3,297.8 113.5,296.5 112.7,295.3 111.8,294.2 111.0,293.0 110.1,291.9 109.1,290.9 108.2,289.8 107.2,288.9 106.2,287.9 105.2,287.0 104.1,286.2 103.1,285.4 102.0,284.6 100.9,283.9 99.7,283.2 98.6,282.6 97.4,282.1 96.2,281.5 95.0,281.1 93.7,280.7 92.5,280.4 91.2,280.1 89.9,279.9 88.6,279.7 87.3,279.6 86.0,279.6 83.9,279.6 81.9,279.6 79.8,279.6 77.8,279.6 75.7,279.6 73.7,279.6 71.6,279.6 69.6,279.6 67.5,279.6 65.5,279.6 63.4,279.6 61.4,279.6 59.3,279.6 57.3,279.6" fill="#879ec7" stroke="#879ec7" stroke-width="0.4"/>
<polygon points="419.5,383.4 421.5,383.4 423.5,383.4 425.6,383.4 427.6,383.4 429.6,383.4 431.6,383.4 433.6,383.4 435.6,383.4 437.6,383.4 439.6,383.4 441.6,383.4 443.6,383.4 445.6,383.4 447.6,383.4 449.6,383.4 451.7,383.4 453.7,383.4 455.7,383.4 457.7,383.4 459.7,383.4 461.7,383.4 463.7,383.4 465.7,383.4 467.7,383.4 469.7,383.4 471.7,383.4 473.7,383.4 475.8,383.4 477.8,383.4 479.8,383.4 481.8,383.4 483.8,383.4 485.8,383.4 487.8,383.4 489.8,383.4 491.8,383.4 493.8,383.4 495.8,383.4 497.8,383.4 499.9,383.4 501.9,383.4 503.9,383.4 505.9,383.4 507.9,383.4 509.9,383.4 511.9,383.4 513.9,383.4 515.9,383.4 517.9,383.4 519.9,383.4 521.9,383.4 524.0,383.4 526.0,383.4 528.0,383.4 530.0,383.4 532.0,383.4 534.0,383.4 535.9,383.4 537.3,383.4 538.5,383.3 539.7,383.2 541.0,383.1 542.2,382.9 543.4,382.7 544.5,382.4 545.7,382.1 546.8,381.8 548.0,381.4 549.1,381.0 550.2,380.6 551.3,380.1 552.3,379.6 553.4,379.0 554.4,378.5 555.4,377.8 556.4,377.2 557.3,376.5 558.3,375.8 559.2,375.1 560.1,374.4 560.9,373.6 561.8,372.8 562.6,371.9 563.4,371.1 564.1,370.2 564.8,369.3 565.5,368.3 566.2,367.4 566.8,366.4 567.5,365.4 568.0,364.4 568.6,363.3 569.1,362.3 569.6,361.2 570.0,360.1 570.4,359.0 570.8,357.8 571.1,356.7 571.4,355.5 571.7,354.4 571.9,353.2 572.1,352.0 572.2,350.7 572.3,349.5 572.4,348.3 572.4,346.9 572.4,345.0 572.4,343.0 572.4,341.0 572.4,339.0 572.4,337.0 572.4,335.0 572.4,333.0 572.4,331.0 572.4,329.0 572.4,326.9 572.5,325.2 572.5,323.5 572.7,321.7 572.8,320.0 573.1,318.2 573.3,316.5 573.6,314.8 574.0,313.2 574.4,311.5 574.9,309.9 575.4,308.3 575.9,306.7 576.5,305.2 577.1,303.6 577.8,302.1 578.5,300.6 579.3,299.2 580.0,297.8 580.9,296.4 581.7,295.0 582.6,293.7 583.6,292.4 584.6,291.1 585.6,289.9 586.6,288.7 587.7,287.5 588.8,286.4 590.0,285.3 591.2,284.2 592.4,283.2 593.7,282.3 594.9,281.4 596.3,280.5 597.6,279.7 599.0,278.9 600.4,278.1 601.8,277.5 603.3,276.8 604.7,276.3 606.2,275.7 607.8,275.3 609.3,274.9 610.9,274.5 612.5,274.2 614.1,274.0 615.7,273.9 617.4,273.8 618.9,273.7 621.1,273.7 623.1,273.7 625.2,273.7 625.2,279.6 623.1,279.6 621.1,279.6 619.0,279.6 617.6,279.6 616.2,279.7 614.8,279.8 613.4,280.0 612.0,280.3 610.7,280.6 609.4,280.9 608.1,281.3 606.8,281.8 605.5,282.2 604.2,282.8 603.0,283.4 601.8,284.0 600.6,284.7 599.4,285.4 598.3,286.2 597.1,287.0 596.0,287.8 595.0,288.7 593.9,289.6 592.9,290.6 591.9,291.6 591.0,292.6 590.0,293.6 589.1,294.7 588.3,295.9 587.4,297.0 586.6,298.2 585.9,299.4 585.1,300.7 584.4,301.9 583.7,303.2 583.1,304.6 582.5,305.9 581.9,307.3 581.4,308.7 580.9,310.1 580.5,311.6 580.1,313.0 579.7,314.5 579.4,316.0 579.1,317.5 578.8,319.1 578.6,320.6 578.5,322.2 578.4,323.8 578.3,325.4 578.3,327.0 578.3,329.0 578.3,331.0 578.3,333.0 578.3,335.0 578.3,337.0 578.3,339.0 578.3,341.0 578.3,343.0 578.3,345.0 578.3,347.0 578.3,348.5 578.2,349.9 578.1,351.3 577.9,352.7 577.7,354.1 577.4,355.5 577.1,356.9 576.8,358.2 576.4,359.6 575.9,360.9 575.5,362.2 575.0,363.5 574.4,364.7 573.8,365.9 573.2,367.1 572.5,368.3 571.8,369.5 571.1,370.6 570.3,371.7 569.5,372.8 568.6,373.9 567.7,374.9 566.8,375.9 565.9,376.9 564.9,377.8 563.9,378.7 562.9,379.6 561.8,380.5 560.7,381.3 559.6,382.1 558.5,382.8 557.3,383.5 556.1,384.2 554.9,384.8 553.7,385.4 552.5,386.0 551.2,386.5 549.9,386.9 548.6,387.4 547.2,387.8 545.9,388.1 544.5,388.4 543.1,388.7 541.7,388.9 540.3,389.1 538.9,389.2 537.5,389.3 536.0,389.3 534.0,389.3 532.0,389.3 530.0,389.3 528.0,389.3 526.0,389.3 524.0,389.3 521.9,389.3 519.9,389.3 517.9,389.3 515.9,389.3 513.9,389.3 511.9,389.3 509.9,389.3 507.9,389.3 505.9,389.3 503.9,389.3 501.9,389.3 499.9,389.3 497.8,389.3 495.8,389.3 493.8,389.3 491.8,389.3 489.8,389.3 487.8,389.3 485.8,389.3 483.8,389.3 481.8,389.3 479.8,389.3 477.8,389.3 475.8,389.3 473.7,389.3 471.7,389.3 469.7,389.3 467.7,389.3 465.7,389.3 463.7,389.3 461.7,389.3 459.7,389.3 457.7,389.3 455.7,389.3 453.7,389.3 451.7,389.3 449.6,389.3 447.6,389.3 445.6,389.3 443.6,389.3 441.6,389.3 439.6,389.3 437.6,389.3 435.6,389.3 433.6,389.3 431.6,389.3 429.6,389.3 427.6,389.3 425.6,389.3 423.5,389.3 421.5,389.3 419.5,389.3" fill="#e37c72" stroke="#e37c72" stroke-width="0.4"/>
<polygon points="625.2,273.7 627.2,273.7 629.3,273.7 631.4,273.7 633.4,273.7 635.5,273.7 637.5,273.7 639.6,273.7 641.6,273.7 643.7,273.7 643.7,279.6 641.6,279.6 639.6,279.6 637.5,279.6 635.5,279.6 633.4,279.6 631.4,279.6 629.3,279.6 627.2,279.6 625.2,279.6" fill="#879ec7" stroke="#879ec7" stroke-width="0.4"/>
<polygon points="47.0,279.6 49.1,279.6 51.1,279.6 53.2,279.6 55.2,279.6 57.3,279.6 59.3,279.6 61.4,279.6 63.4,279.6 65.5,279.6 67.5,279.6 69.6,279.6 71.6,279.6 73.7,279.6 75.7,279.6 77.8,279.6 79.8,279.6 81.9,279.6 83.9,279.6 86.0,279.6 87.3,279.6 88.6,279.7 89.9,279.9 91.2,280.1 92.5,280.4 93.7,280.7 95.0,281.1 96.2,281.5 97.4,282.1 98.6,282.6 99.7,283.2 100.9,283.9 102.0,284.6 103.1,285.4 104.1,286.2 105.2,287.0 106.2,287.9 107.2,288.9 108.2,289.8 109.1,290.9 110.1,291.9 111.0,293.0 111.8,294.2 112.7,295.3 113.5,296.5 114.3,297.8 115.0,299.1 115.8,300.4 116.5,301.7 117.1,303.1 117.8,304.5 118.4,305.9 119.0,307.4 119.5,308.8 120.0,310.4 120.5,311.9 120.9,313.5 121.4,315.0 121.7,316.6 122.1,318.3 122.4,319.9 122.6,321.6 122.9,323.3 123.1,325.0 123.2,326.7 123.3,328.5 123.4,330.2 123.4,331.9 123.5,334.0 123.6,336.1 123.7,338.3 123.8,340.4 123.9,342.6 124.0,344.7 124.1,346.9 124.2,348.4 124.2,349.9 124.4,351.3 124.5,352.7 124.8,354.1 125.0,355.5 125.3,356.9 125.7,358.2 126.1,359.6 126.5,360.9 127.0,362.2 127.5,363.4 128.1,364.7 128.7,365.9 129.3,367.1 130.0,368.3 130.7,369.5 131.4,370.6 132.2,371.7 133.0,372.8 133.9,373.9 134.8,374.9 135.7,375.9 136.6,376.9 137.6,377.8 138.6,378.7 139.6,379.6 140.7,380.5 141.8,381.3 142.9,382.1 144.0,382.8 145.2,383.5 146.4,384.2 147.6,384.8 148.8,385.4 150.1,386.0 151.3,386.5 152.6,386.9 153.9,387.4 155.3,387.8 156.6,388.1 158.0,388.4 159.4,388.7 160.8,388.9 162.2,389.1 163.6,389.2 165.0,389.3 166.5,389.3 168.5,389.3 170.5,389.3 172.5,389.3 174.5,389.3 176.5,389.3 178.5,389.3 180.6,389.3 182.6,389.3 184.6,389.3 186.6,389.3 188.6,389.3 190.6,389.3 192.6,389.3 194.6,389.3 196.6,389.3 198.6,389.3 200.6,389.3 202.6,389.3 204.7,389.3 206.7,389.3 208.7,389.3 210.7,389.3 212.7,389.3 214.7,389.3 216.7,389.3 218.7,389.3 220.7,389.3 222.7,389.3 224.7,389.3 226.7,389.3 228.8,389.3 230.8,389.3 232.8,389.3 234.8,389.3 236.8,389.3 238.8,389.3 240.8,389.3 242.8,389.3 244.8,389.3 246.8,389.3 248.8,389.3 250.8,389.3 252.9,389.3 254.9,389.3 256.9,389.3 258.9,389.3 260.9,389.3 262.9,389.3 264.9,389.3 266.9,389.3 268.9,389.3 270.9,389.3 272.9,389.3 274.9,389.3 276.9,389.3 279.0,389.3 281.0,389.3 283.0,389.3 285.0,389.3 287.0,389.3 289.0,389.3 291.0,389.3 293.0,389.3 295.0,389.3 297.0,389.3 299.0,389.3 301.0,389.3 303.1,389.3 305.1,389.3 307.1,389.3 309.1,389.3 311.1,389.3 313.1,389.3 315.1,389.3 317.1,389.3 319.1,389.3 321.1,389.3 323.1,389.3 325.1,389.3 327.2,389.3 329.2,389.3 331.2,389.3 333.2,389.3 335.2,389.3 337.2,389.3 339.2,389.3 341.2,389.3 343.2,389.3 345.2,389.3 347.2,389.3 349.2,389.3 351.2,389.3 353.3,389.3 355.3,389.3 357.3,389.3 359.3,389.3 361.3,389.3 363.3,389.3 365.3,389.3 367.3,389.3 369.3,389.3 371.3,389.3 373.3,389.3 375.3,389.3 377.4,389.3 379.4,389.3 381.4,389.3 383.4,389.3 385.4,389.3 387.4,389.3 389.4,389.3 391.4,389.3 393.4,389.3 395.4,389.3 397.4,389.3 399.4,389.3 401.5,389.3 403.5,389.3 405.5,389.3 407.5,389.3 409.5,389.3 411.5,389.3 413.5,389.3 415.5,389.3 417.5,389.3 419.5,389.3 421.5,389.3 423.5,389.3 425.6,389.3 427.6,389.3 429.6,389.3 431.6,389.3 433.6,389.3 435.6,389.3 437.6,389.3 439.6,389.3 441.6,389.3 443.6,389.3 445.6,389.3 447.6,389.3 449.6,389.3 451.7,389.3 453.7,389.3 455.7,389.3 457.7,389.3 459.7,389.3 461.7,389.3 463.7,389.3 465.7,389.3 467.7,389.3 469.7,389.3 471.7,389.3 473.7,389.3 475.8,389.3 477.8,389.3 479.8,389.3 481.8,389.3 483.8,389.3 485.8,389.3 487.8,389.3 489.8,389.3 491.8,389.3 493.8,389.3 495.8,389.3 497.8,389.3 499.9,389.3 501.9,389.3 503.9,389.3 505.9,389.3 507.9,389.3 509.9,389.3 511.9,389.3 513.9,389.3 515.9,389.3 517.9,389.3 519.9,389.3 521.9,389.3 524.0,389.3 526.0,389.3 528.0,389.3 530.0,389.3 532.0,389.3 534.0,389.3 536.0,389.3 537.5,389.3 538.9,389.2 540.3,389.1 541.7,388.9 543.1,388.7 544.5,388.4 545.9,388.1 547.2,387.8 548.6,387.4 549.9,386.9 551.2,386.5 552.5,386.0 553.7,385.4 554.9,384.8 556.1,384.2 557.3,383.5 558.5,382.8 559.6,382.1 560.7,381.3 561.8,380.5 562.9,379.6 563.9,378.7 564.9,377.8 565.9,376.9 566.8,375.9 567.7,374.9 568.6,373.9 569.5,372.8 570.3,371.7 571.1,370.6 571.8,369.5 572.5,368.3 573.2,367.1 573.8,365.9 574.4,364.7 575.0,363.5 575.5,362.2 575.9,360.9 576.4,359.6 576.8,358.2 577.1,356.9 577.4,355.5 577.7,354.1 577.9,352.7 578.1,351.3 578.2,349.9 578.3,348.5 578.3,347.0 578.3,345.0 578.3,343.0 578.3,341.0 578.3,339.0 578.3,337.0 578.3,335.0 578.3,333.0 578.3,331.0 578.3,329.0 578.3,327.0 578.3,325.4 578.4,323.8 578.5,322.2 578.6,320.6 578.8,319.1 579.1,317.5 579.4,316.0 579.7,314.5 580.1,313.0 580.5,311.6 580.9,310.1 581.4,308.7 581.9,307.3 582.5,305.9 583.1,304.6 583.7,303.2 584.4,301.9 585.1,300.7 585.9,299.4 586.6,298.2 587.4,297.0 588.3,295.9 589.1,294.7 590.0,293.6 591.0,292.6 591.9,291.6 592.9,290.6 593.9,289.6 595.0,288.7 596.0,287.8 597.1,287.0 598.3,286.2 599.4,285.4 600.6,284.7 601.8,284.0 603.0,283.4 604.2,282.8 605.5,282.2 606.8,281.8 608.1,281.3 609.4,280.9 610.7,280.6 612.0,280.3 613.4,280.0 614.8,279.8 616.2,279.7 617.6,279.6 619.0,279.6 621.1,279.6 623.1,279.6 625.2,279.6 627.2,279.6 629.3,279.6 631.4,279.6 633.4,279.6 635.5,279.6 637.5,279.6 639.6,279.6 641.6,279.6 643.7,279.6 645.8,279.6 647.8,279.6 649.9,279.6 651.9,279.6 654.0,279.6 654.0,285.4 651.9,285.4 649.9,285.4 647.8,285.4 645.8,285.4 643.7,285.4 641.6,285.4 639.6,285.4 637.5,285.4 635.5,285.4 633.4,285.4 631.4,285.4 629.3,285.4 627.2,285.4 625.2,285.4 623.1,285.4 621.1,285.4 619.0,285.4 617.8,285.4 616.6,285.5 615.5,285.6 614.3,285.8 613.2,286.0 612.1,286.2 611.0,286.5 609.9,286.9 608.8,287.2 607.7,287.7 606.6,288.1 605.6,288.6 604.6,289.2 603.6,289.7 602.6,290.3 601.6,291.0 600.6,291.7 599.7,292.4 598.8,293.1 597.9,293.9 597.0,294.8 596.1,295.6 595.3,296.5 594.5,297.4 593.7,298.4 593.0,299.4 592.2,300.4 591.5,301.4 590.8,302.5 590.2,303.6 589.6,304.7 589.0,305.8 588.4,307.0 587.9,308.2 587.4,309.4 586.9,310.7 586.5,311.9 586.1,313.2 585.7,314.5 585.4,315.8 585.1,317.2 584.8,318.5 584.6,319.9 584.5,321.3 584.3,322.7 584.2,324.1 584.1,325.6 584.1,327.0 584.1,329.0 584.1,331.0 584.1,333.0 584.1,335.0 584.1,337.0 584.1,339.0 584.1,341.0 584.1,343.0 584.1,345.0 584.1,347.0 584.1,348.7 584.0,350.3 583.9,351.9 583.7,353.5 583.4,355.1 583.1,356.7 582.8,358.3 582.4,359.8 582.0,361.3 581.5,362.8 580.9,364.3 580.3,365.7 579.7,367.2 579.0,368.6 578.3,369.9 577.6,371.3 576.7,372.6 575.9,373.9 575.0,375.2 574.1,376.4 573.1,377.6 572.1,378.8 571.1,379.9 570.0,381.0 568.9,382.1 567.8,383.1 566.6,384.1 565.4,385.1 564.2,386.0 562.9,386.9 561.6,387.7 560.3,388.6 558.9,389.3 557.6,390.0 556.2,390.7 554.7,391.3 553.3,391.9 551.8,392.5 550.3,393.0 548.8,393.4 547.3,393.8 545.7,394.1 544.1,394.4 542.5,394.7 540.9,394.9 539.3,395.0 537.7,395.1 536.0,395.1 534.0,395.1 532.0,395.1 530.0,395.1 528.0,395.1 526.0,395.1 524.0,395.1 521.9,395.1 519.9,395.1 517.9,395.1 515.9,395.1 513.9,395.1 511.9,395.1 509.9,395.1 507.9,395.1 505.9,395.1 503.9,395.1 501.9,395.1 499.9,395.1 497.8,395.1 495.8,395.1 493.8,395.1 491.8,395.1 489.8,395.1 487.8,395.1 485.8,395.1 483.8,395.1 481.8,395.1 479.8,395.1 477.8,395.1 475.8,395.1 473.7,395.1 471.7,395.1 469.7,395.1 467.7,395.1 465.7,395.1 463.7,395.1 461.7,395.1 459.7,395.1 457.7,395.1 455.7,395.1 453.7,395.1 451.7,395.1 449.6,395.1 447.6,395.1 445.6,395.1 443.6,395.1 441.6,395.1 439.6,395.1 437.6,395.1 435.6,395.1 433.6,395.1 431.6,395.1 429.6,395.1 427.6,395.1 425.6,395.1 423.5,395.1 421.5,395.1 419.5,395.1 417.5,395.1 415.5,395.1 413.5,395.1 411.5,395.1 409.5,395.1 407.5,395.1 405.5,395.1 403.5,395.1 401.5,395.1 399.4,395.1 397.4,395.1 395.4,395.1 393.4,395.1 391.4,395.1 389.4,395.1 387.4,395.1 385.4,395.1 383.4,395.1 381.4,395.1 379.4,395.1 377.4,395.1 375.3,395.1 373.3,395.1 371.3,395.1 369.3,395.1 367.3,395.1 365.3,395.1 363.3,395.1 361.3,395.1 359.3,395.1 357.3,395.1 355.3,395.1 353.3,395.1 351.2,395.1 349.2,395.1 347.2,395.1 345.2,395.1 343.2,395.1 341.2,395.1 339.2,395.1 337.2,395.1 335.2,395.1 333.2,395.1 331.2,395.1 329.2,395.1 327.2,395.1 325.1,395.1 323.1,395.1 321.1,395.1 319.1,395.1 317.1,395.1 315.1,395.1 313.1,395.1 311.1,395.1 309.1,395.1 307.1,395.1 305.1,395.1 303.1,395.1 301.0,395.1 299.0,395.1 297.0,395.1 295.0,395.1 293.0,395.1 291.0,395.1 289.0,395.1 287.0,395.1 285.0,395.1 283.0,395.1 281.0,395.1 279.0,395.1 276.9,395.1 274.9,395.1 272.9,395.1 270.9,395.1 268.9,395.1 266.9,395.1 264.9,395.1 262.9,395.1 260.9,395.1 258.9,395.1 256.9,395.1 254.9,395.1 252.9,395.1 250.8,395.1 248.8,395.1 246.8,395.1 244.8,395.1 242.8,395.1 240.8,395.1 238.8,395.1 236.8,395.1 234.8,395.1 232.8,395.1 230.8,395.1 228.8,395.1 226.7,395.1 224.7,395.1 222.7,395.1 220.7,395.1 218.7,395.1 216.7,395.1 214.7,395.1 212.7,395.1 210.7,395.1 208.7,395.1 206.7,395.1 204.7,395.1 202.6,395.1 200.6,395.1 198.6,395.1 196.6,395.1 194.6,395.1 192.6,395.1 190.6,395.1 188.6,395.1 186.6,395.1 184.6,395.1 182.6,395.1 180.6,395.1 178.5,395.1 176.5,395.1 174.5,395.1 172.5,395.1 170.5,395.1 168.5,395.1 166.5,395.1 164.9,395.1 163.2,395.0 161.6,394.9 160.0,394.7 158.4,394.4 156.8,394.1 155.3,393.8 153.7,393.4 152.2,393.0 150.7,392.5 149.2,391.9 147.8,391.3 146.4,390.7 145.0,390.0 143.6,389.3 142.2,388.6 140.9,387.7 139.6,386.9 138.3,386.0 137.1,385.1 135.9,384.1 134.7,383.1 133.6,382.1 132.5,381.0 131.4,379.9 130.4,378.8 129.4,377.6 128.4,376.4 127.5,375.2 126.6,373.9 125.7,372.6 124.9,371.3 124.2,369.9 123.4,368.6 122.8,367.2 122.1,365.7 121.5,364.3 121.0,362.8 120.5,361.3 120.0,359.8 119.6,358.3 119.3,356.7 119.0,355.1 118.7,353.5 118.5,351.9 118.4,350.3 118.3,348.7 118.3,347.1 118.2,345.0 118.1,342.9 118.0,340.7 117.9,338.6 117.8,336.4 117.7,334.3 117.6,332.1 117.5,330.4 117.5,328.8 117.4,327.2 117.2,325.6 117.1,324.0 116.9,322.5 116.6,320.9 116.3,319.4 116.0,317.9 115.7,316.4 115.3,315.0 114.9,313.6 114.5,312.2 114.0,310.8 113.5,309.4 113.0,308.1 112.4,306.8 111.8,305.6 111.2,304.3 110.6,303.1 110.0,302.0 109.3,300.8 108.6,299.7 107.9,298.7 107.1,297.6 106.4,296.6 105.6,295.7 104.8,294.8 104.0,293.9 103.1,293.1 102.3,292.3 101.4,291.5 100.5,290.8 99.6,290.1 98.7,289.5 97.8,288.9 96.9,288.3 95.9,287.8 95.0,287.4 94.0,287.0 93.1,286.6 92.1,286.3 91.1,286.0 90.1,285.8 89.1,285.6 88.1,285.5 87.0,285.5 86.0,285.4 83.9,285.4 81.9,285.4 79.8,285.4 77.8,285.4 75.7,285.4 73.7,285.4 71.6,285.4 69.6,285.4 67.5,285.4 65.5,285.4 63.4,285.4 61.4,285.4 59.3,285.4 57.3,285.4 55.2,285.4 53.2,285.4 51.1,285.4 49.1,285.4 47.0,285.4" fill="#e37c72" stroke="#e37c72" stroke-width="0.4"/>
<polygon points="47.0,285.4 49.1,285.4 51.1,285.4 53.2,285.4 55.2,285.4 57.3,285.4 59.3,285.4 61.4,285.4 63.4,285.4 65.5,285.4 67.5,285.4 69.6,285.4 71.6,285.4 73.7,285.4 75.7,285.4 77.8,285.4 79.8,285.4 81.9,285.4 83.9,285.4 86.0,285.4 87.0,285.5 88.1,285.5 89.1,285.6 90.1,285.8 91.1,286.0 92.1,286.3 93.1,286.6 94.0,287.0 95.0,287.4 95.9,287.8 96.9,288.3 97.8,288.9 98.7,289.5 99.6,290.1 100.5,290.8 101.4,291.5 102.3,292.3 103.1,293.1 104.0,293.9 104.8,294.8 105.6,295.7 106.4,296.6 107.1,297.6 107.9,298.7 108.6,299.7 109.3,300.8 110.0,302.0 110.6,303.1 111.2,304.3 111.8,305.6 112.4,306.8 113.0,308.1 113.5,309.4 114.0,310.8 114.5,312.2 114.9,313.6 115.3,315.0 115.7,316.4 116.0,317.9 116.3,319.4 116.6,320.9 116.9,322.5 117.1,324.0 117.2,325.6 117.4,327.2 117.5,328.8 117.5,330.4 117.6,332.1 117.7,334.3 117.8,336.4 117.9,338.6 118.0,340.7 118.1,342.9 118.2,345.0 118.3,347.1 118.3,348.7 118.4,350.3 118.5,351.9 118.7,353.5 119.0,355.1 119.3,356.7 119.6,358.3 120.0,359.8 120.5,361.3 121.0,362.8 121.5,364.3 122.1,365.7 122.8,367.2 123.4,368.6 124.2,369.9 124.9,371.3 125.7,372.6 126.6,373.9 127.5,375.2 128.4,376.4 129.4,377.6 130.4,378.8 131.4,379.9 132.5,381.0 133.6,382.1 134.7,383.1 135.9,384.1 137.1,385.1 138.3,386.0 139.6,386.9 140.9,387.7 142.2,388.6 143.6,389.3 145.0,390.0 146.4,390.7 147.8,391.3 149.2,391.9 150.7,392.5 152.2,393.0 153.7,393.4 155.3,393.8 156.8,394.1 158.4,394.4 160.0,394.7 161.6,394.9 163.2,395.0 164.9,395.1 166.5,395.1 168.5,395.1 170.5,395.1 172.5,395.1 174.5,395.1 176.5,395.1 178.5,395.1 180.6,395.1 182.6,395.1 184.6,395.1 186.6,395.1 188.6,395.1 190.6,395.1 192.6,395.1 194.6,395.1 196.6,395.1 198.6,395.1 200.6,395.1 202.6,395.1 204.7,395.1 206.7,395.1 208.7,395.1 210.7,395.1 212.7,395.1 214.7,395.1 216.7,395.1 218.7,395.1 220.7,395.1 222.7,395.1 224.7,395.1 226.7,395.1 228.8,395.1 230.8,395.1 232.8,395.1 234.8,395.1 236.8,395.1 238.8,395.1 240.8,395.1 242.8,395.1 244.8,395.1 246.8,395.1 248.8,395.1 250.8,395.1 252.9,395.1 254.9,395.1 256.9,395.1 258.9,395.1 260.9,395.1 262.9,395.1 264.9,395.1 266.9,395.1 268.9,395.1 270.9,395.1 272.9,395.1 274.9,395.1 274.9,401.0 272.9,401.0 270.9,401.0 268.9,401.0 266.9,401.0 264.9,401.0 262.9,401.0 260.9,401.0 258.9,401.0 256.9,401.0 254.9,401.0 252.9,401.0 250.8,401.0 248.8,401.0 246.8,401.0 244.8,401.0 242.8,401.0 240.8,401.0 238.8,401.0 236.8,401.0 234.8,401.0 232.8,401.0 230.8,401.0 228.8,401.0 226.7,401.0 224.7,401.0 222.7,401.0 220.7,401.0 218.7,401.0 216.7,401.0 214.7,401.0 212.7,401.0 210.7,401.0 208.7,401.0 206.7,401.0 204.7,401.0 202.6,401.0 200.6,401.0 198.6,401.0 196.6,401.0 194.6,401.0 192.6,401.0 190.6,401.0 188.6,401.0 186.6,401.0 184.6,401.0 182.6,401.0 180.6,401.0 178.5,401.0 176.5,401.0 174.5,401.0 172.5,401.0 170.5,401.0 168.5,401.0 166.4,401.0 164.7,400.9 162.8,400.9 161.0,400.7 159.2,400.5 157.4,400.2 155.6,399.9 153.9,399.5 152.2,399.0 150.5,398.5 148.8,398.0 147.1,397.4 145.5,396.7 143.9,396.0 142.3,395.3 140.8,394.5 139.3,393.6 137.8,392.7 136.3,391.8 134.9,390.8 133.5,389.7 132.2,388.7 130.9,387.5 129.6,386.4 128.4,385.2 127.2,383.9 126.0,382.7 124.9,381.3 123.8,380.0 122.7,378.6 121.8,377.2 120.8,375.7 119.9,374.3 119.0,372.8 118.2,371.2 117.5,369.6 116.8,368.0 116.1,366.4 115.5,364.8 114.9,363.1 114.4,361.4 114.0,359.6 113.6,357.9 113.2,356.1 112.9,354.3 112.7,352.5 112.6,350.7 112.5,348.9 112.4,347.3 112.3,345.3 112.2,343.1 112.1,341.0 112.0,338.8 111.9,336.7 111.8,334.6 111.7,332.3 111.7,330.6 111.6,329.1 111.5,327.6 111.4,326.2 111.3,324.7 111.1,323.3 110.8,321.9 110.6,320.5 110.3,319.2 110.0,317.8 109.7,316.5 109.3,315.2 108.9,314.0 108.5,312.7 108.0,311.5 107.6,310.4 107.1,309.2 106.6,308.1 106.0,307.0 105.5,305.9 104.9,304.9 104.3,303.9 103.7,302.9 103.1,302.0 102.4,301.1 101.8,300.3 101.1,299.5 100.4,298.7 99.8,297.9 99.1,297.2 98.4,296.6 97.6,296.0 96.9,295.4 96.2,294.8 95.5,294.3 94.8,293.9 94.0,293.5 93.3,293.1 92.6,292.7 91.9,292.4 91.1,292.2 90.4,291.9 89.7,291.7 89.0,291.6 88.2,291.4 87.5,291.3 86.7,291.3 85.9,291.3 83.9,291.3 81.9,291.3 79.8,291.3 77.8,291.3 75.7,291.3 73.7,291.3 71.6,291.3 69.6,291.3 67.5,291.3 65.5,291.3 63.4,291.3 61.4,291.3 59.3,291.3 57.3,291.3 55.2,291.3 53.2,291.3 51.1,291.3 49.1,291.3 47.0,291.3" fill="#879ec7" stroke="#879ec7" stroke-width="0.4"/>
<polygon points="274.9,395.1 276.9,395.1 279.0,395.1 281.0,395.1 283.0,395.1 285.0,395.1 287.0,395.1 289.0,395.1 291.0,395.1 293.0,395.1 295.0,395.1 297.0,395.1 299.0,395.1 301.0,395.1 303.1,395.1 305.1,395.1 307.1,395.1 309.1,395.1 311.1,395.1 313.1,395.1 315.1,395.1 317.1,395.1 319.1,395.1 321.1,395.1 323.1,395.1 325.1,395.1 327.2,395.1 329.2,395.1 331.2,395.1 333.2,395.1 335.2,395.1 337.2,395.1 339.2,395.1 341.2,395.1 343.2,395.1 345.2,395.1 347.2,395.1 349.2,395.1 351.2,395.1 353.3,395.1 355.3,395.1 357.3,395.1 359.3,395.1 361.3,395.1 363.3,395.1 365.3,395.1 367.3,395.1 369.3,395.1 371.3,395.1 373.3,395.1 375.3,395.1 377.4,395.1 379.4,395.1 381.4,395.1 383.4,395.1 385.4,395.1 387.4,395.1 389.4,395.1 391.4,395.1 393.4,395.1 395.4,395.1 397.4,395.1 399.4,395.1 401.5,395.1 403.5,395.1 405.5,395.1 407.5,395.1 409.5,395.1 411.5,395.1 413.5,395.1 415.5,395.1 417.5,395.1 419.5,395.1 421.5,395.1 423.5,395.1 425.6,395.1 427.6,395.1 429.6,395.1 431.6,395.1 433.6,395.1 435.6,395.1 437.6,395.1 439.6,395.1 441.6,395.1 443.6,395.1 445.6,395.1 447.6,395.1 449.6,395.1 451.7,395.1 453.7,395.1 455.7,395.1 457.7,395.1 459.7,395.1 461.7,395.1 463.7,395.1 465.7,395.1 467.7,395.1 469.7,395.1 471.7,395.1 473.7,395.1 475.8,395.1 477.8,395.1 479.8,395.1 481.8,395.1 483.8,395.1 485.8,395.1 487.8,395.1 489.8,395.1 491.8,395.1 493.8,395.1 495.8,395.1 497.8,395.1 499.9,395.1 501.9,395.1 503.9,395.1 505.9,395.1 507.9,395.1 509.9,395.1 511.9,395.1 513.9,395.1 515.9,395.1 517.9,395.1 519.9,395.1 521.9,395.1 524.0,395.1 526.0,395.1 528.0,395.1 530.0,395.1 532.0,395.1 534.0,395.1 536.0,395.1 537.7,395.1 539.3,395.0 540.9,394.9 542.5,394.7 544.1,394.4 545.7,394.1 547.3,393.8 548.8,393.4 550.3,393.0 551.8,392.5 553.3,391.9 554.7,391.3 556.2,390.7 557.6,390.0 558.9,389.3 560.3,388.6 561.6,387.7 562.9,386.9 564.2,386.0 565.4,385.1 566.6,384.1 567.8,383.1 568.9,382.1 570.0,381.0 571.1,379.9 575.4,383.9 574.2,385.2 572.9,386.4 571.7,387.5 570.3,388.6 569.0,389.7 567.6,390.8 566.2,391.8 564.7,392.7 563.2,393.6 561.7,394.5 560.2,395.3 558.6,396.0 557.0,396.7 555.4,397.4 553.7,398.0 552.0,398.5 550.3,399.0 548.6,399.5 546.9,399.9 545.1,400.2 543.3,400.5 541.5,400.7 539.7,400.9 537.8,400.9 536.1,401.0 534.0,401.0 532.0,401.0 530.0,401.0 528.0,401.0 526.0,401.0 524.0,401.0 521.9,401.0 519.9,401.0 517.9,401.0 515.9,401.0 513.9,401.0 511.9,401.0 509.9,401.0 507.9,401.0 505.9,401.0 503.9,401.0 501.9,401.0 499.9,401.0 497.8,401.0 495.8,401.0 493.8,401.0 491.8,401.0 489.8,401.0 487.8,401.0 485.8,401.0 483.8,401.0 481.8,401.0 479.8,401.0 477.8,401.0 475.8,401.0 473.7,401.0 471.7,401.0 469.7,401.0 467.7,401.0 465.7,401.0 463.7,401.0 461.7,401.0 459.7,401.0 457.7,401.0 455.7,401.0 453.7,401.0 451.7,401.0 449.6,401.0 447.6,401.0 445.6,401.0 443.6,401.0 441.6,401.0 439.6,401.0 437.6,401.0 435.6,401.0 433.6,401.0 431.6,401.0 429.6,401.0 427.6,401.0 425.6,401.0 423.5,401.0 421.5,401.0 419.5,401.0 417.5,401.0 415.5,401.0 413.5,401.0 411.5,401.0 409.5,401.0 407.5,401.0 405.5,401.0 403.5,401.0 401.5,401.0 399.4,401.0 397.4,401.0 395.4,401.0 393.4,401.0 391.4,401.0 389.4,401.0 387.4,401.0 385.4,401.0 383.4,401.0 381.4,401.0 379.4,401.0 377.4,401.0 375.3,401.0 373.3,401.0 371.3,401.0 369.3,401.0 367.3,401.0 365.3,401.0 363.3,401.0 361.3,401.0 359.3,401.0 357.3,401.0 355.3,401.0 353.3,401.0 351.2,401.0 349.2,401.0 347.2,401.0 345.2,401.0 343.2,401.0 341.2,401.0 339.2,401.0 337.2,401.0 335.2,401.0 333.2,401.0 331.2,401.0 329.2,401.0 327.2,401.0 325.1,401.0 323.1,401.0 321.1,401.0 319.1,401.0 317.1,401.0 315.1,401.0 313.1,401.0 311.1,401.0 309.1,401.0 307.1,401.0 305.1,401.0 303.1,401.0 301.0,401.0 299.0,401.0 297.0,401.0 295.0,401.0 293.0,401.0 291.0,401.0 289.0,401.0 287.0,401.0 285.0,401.0 283.0,401.0 281.0,401.0 279.0,401.0 276.9,401.0 274.9,401.0" fill="#e37c72" stroke="#e37c72" stroke-width="0.4"/>
<polygon points="571.1,379.9 572.1,378.8 573.1,377.6 574.1,376.4 575.0,375.2 575.9,373.9 576.7,372.6 577.6,371.3 578.3,369.9 579.0,368.6 579.7,367.2 580.3,365.7 580.9,364.3 581.5,362.8 582.0,361.3 582.4,359.8 582.8,358.3 583.1,356.7 583.4,355.1 583.7,353.5 583.9,351.9 584.0,350.3 584.1,348.7 584.1,347.0 584.1,345.0 584.1,343.0 584.1,341.0 584.1,339.0 584.1,337.0 584.1,335.0 584.1,333.0 584.1,331.0 584.1,329.0 584.1,327.0 584.1,325.6 584.2,324.1 584.3,322.7 584.5,321.3 584.6,319.9 584.8,318.5 585.1,317.2 585.4,315.8 585.7,314.5 586.1,313.2 586.5,311.9 586.9,310.7 587.4,309.4 587.9,308.2 588.4,307.0 589.0,305.8 589.6,304.7 590.2,303.6 590.8,302.5 591.5,301.4 592.2,300.4 593.0,299.4 593.7,298.4 594.5,297.4 595.3,296.5 596.1,295.6 597.0,294.8 597.9,293.9 598.8,293.1 599.7,292.4 600.6,291.7 601.6,291.0 602.6,290.3 603.6,289.7 604.6,289.2 605.6,288.6 606.6,288.1 607.7,287.7 608.8,287.2 609.9,286.9 611.0,286.5 612.1,286.2 613.2,286.0 614.3,285.8 615.5,285.6 616.6,285.5 617.8,285.4 619.0,285.4 621.1,285.4 623.1,285.4 625.2,285.4 627.2,285.4 629.3,285.4 631.4,285.4 633.4,285.4 635.5,285.4 637.5,285.4 639.6,285.4 641.6,285.4 643.7,285.4 645.8,285.4 647.8,285.4 649.9,285.4 651.9,285.4 654.0,285.4 654.0,291.3 651.9,291.3 649.9,291.3 647.8,291.3 645.8,291.3 643.7,291.3 641.6,291.3 639.6,291.3 637.5,291.3 635.5,291.3 633.4,291.3 631.4,291.3 629.3,291.3 627.2,291.3 625.2,291.3 623.1,291.3 621.1,291.3 619.1,291.3 618.0,291.3 617.1,291.4 616.2,291.4 615.3,291.6 614.3,291.7 613.4,291.9 612.5,292.2 611.7,292.4 610.8,292.7 609.9,293.1 609.0,293.4 608.2,293.9 607.4,294.3 606.5,294.8 605.7,295.3 604.9,295.8 604.1,296.4 603.3,297.0 602.6,297.6 601.8,298.3 601.1,299.0 600.3,299.7 599.6,300.4 599.0,301.2 598.3,302.0 597.6,302.9 597.0,303.7 596.4,304.6 595.8,305.5 595.3,306.5 594.7,307.5 594.2,308.4 593.7,309.5 593.3,310.5 592.8,311.6 592.4,312.6 592.1,313.7 591.7,314.9 591.4,316.0 591.1,317.2 590.8,318.3 590.6,319.5 590.4,320.7 590.3,322.0 590.1,323.2 590.0,324.5 590.0,325.7 590.0,327.1 590.0,329.0 590.0,331.0 590.0,333.0 590.0,335.0 590.0,337.0 590.0,339.0 590.0,341.0 590.0,343.0 590.0,345.0 590.0,347.1 589.9,348.8 589.9,350.7 589.7,352.5 589.5,354.3 589.2,356.1 588.9,357.9 588.5,359.6 588.0,361.3 587.5,363.0 587.0,364.7 586.4,366.4 585.7,368.0 585.0,369.6 584.3,371.2 583.5,372.7 582.6,374.2 581.7,375.7 580.8,377.2 579.8,378.6 578.7,380.0 577.6,381.3 576.5,382.7 575.4,383.9" fill="#879ec7" stroke="#879ec7" stroke-width="0.4"/>
<polyline points="57.3,273.7 59.3,273.7 61.4,273.7 63.4,273.7 65.5,273.7 67.5,273.7 69.6,273.7 71.6,273.7 73.7,273.7 75.7,273.7 77.8,273.7 79.8,273.7 81.9,273.7 83.9,273.7 86.1,273.7 87.6,273.8 89.2,273.9 90.8,274.1 92.3,274.3 93.9,274.7 95.4,275.1 96.9,275.6 98.3,276.1 99.8,276.7 101.2,277.4 102.6,278.1 103.9,278.9 105.2,279.7 106.5,280.6 107.7,281.6 109.0,282.6 110.1,283.6 111.3,284.7 112.4,285.8 113.5,286.9 114.5,288.1 115.5,289.4 116.5,290.7 117.5,292.0 118.4,293.3 119.3,294.7 120.1,296.1 120.9,297.6 121.7,299.1 122.4,300.6 123.1,302.1 123.8,303.7 124.4,305.3 125.0,306.9 125.6,308.6 126.1,310.2 126.6,311.9 127.0,313.6 127.4,315.4 127.8,317.2 128.1,318.9 128.4,320.7 128.7,322.6 128.9,324.4 129.0,326.3 129.2,328.1 129.2,330.0 129.3,331.7 129.4,333.7 129.5,335.9 129.6,338.0 129.7,340.2 129.8,342.3 129.9,344.4 130.0,346.7 130.0,348.2 130.1,349.5 130.2,350.7 130.3,351.9 130.5,353.1 130.7,354.3 131.0,355.5 131.3,356.7 131.7,357.8 132.0,358.9 132.4,360.1 132.9,361.2 133.4,362.2 133.9,363.3 134.4,364.3 135.0,365.4 135.6,366.4 136.3,367.3 136.9,368.3 137.7,369.2 138.4,370.2 139.1,371.0 139.9,371.9 140.7,372.7 141.6,373.6 142.5,374.3 143.3,375.1 144.3,375.8 145.2,376.5 146.2,377.2 147.1,377.8 148.1,378.5 149.2,379.0 150.2,379.6 151.3,380.1 152.3,380.6 153.4,381.0 154.6,381.4 155.7,381.8 156.8,382.1 158.0,382.4 159.2,382.7 160.4,382.9 161.6,383.1 162.8,383.2 164.0,383.3 165.2,383.4 166.6,383.4 168.5,383.4 170.5,383.4 172.5,383.4 174.5,383.4 176.5,383.4 178.5,383.4 180.6,383.4 182.6,383.4 184.6,383.4 186.6,383.4 188.6,383.4 190.6,383.4 192.6,383.4 194.6,383.4 196.6,383.4 198.6,383.4 200.6,383.4 202.6,383.4 204.7,383.4 206.7,383.4 208.7,383.4 210.7,383.4 212.7,383.4 214.7,383.4 216.7,383.4 218.7,383.4 220.7,383.4 222.7,383.4 224.7,383.4 226.7,383.4 228.8,383.4 230.8,383.4 232.8,383.4 234.8,383.4 236.8,383.4 238.8,383.4 240.8,383.4 242.8,383.4 244.8,383.4 246.8,383.4 248.8,383.4 250.8,383.4 252.9,383.4 254.9,383.4 256.9,383.4 258.9,383.4 260.9,383.4 262.9,383.4 264.9,383.4 266.9,383.4 268.9,383.4 270.9,383.4 272.9,383.4 274.9,383.4 276.9,383.4 279.0,383.4 281.0,383.4 283.0,383.4 285.0,383.4 287.0,383.4 289.0,383.4 291.0,383.4 293.0,383.4 295.0,383.4 297.0,383.4 299.0,383.4 301.0,383.4 303.1,383.4 305.1,383.4 307.1,383.4 309.1,383.4 311.1,383.4 313.1,383.4 315.1,383.4 317.1,383.4 319.1,383.4 321.1,383.4 323.1,383.4 325.1,383.4 327.2,383.4 329.2,383.4 331.2,383.4 333.2,383.4 335.2,383.4 337.2,383.4 339.2,383.4 341.2,383.4 343.2,383.4 345.2,383.4 347.2,383.4 349.2,383.4 351.2,383.4 353.3,383.4 355.3,383.4 357.3,383.4 359.3,383.4 361.3,383.4 363.3,383.4 365.3,383.4 367.3,383.4 369.3,383.4 371.3,383.4 373.3,383.4 375.3,383.4 377.4,383.4 379.4,383.4 381.4,383.4 383.4,383.4 385.4,383.4 387.4,383.4 389.4,383.4 391.4,383.4 393.4,383.4 395.4,383.4 397.4,383.4 399.4,383.4 401.5,383.4 403.5,383.4 405.5,383.4 407.5,383.4 409.5,383.4 411.5,383.4 413.5,383.4 415.5,383.4 417.5,383.4 419.5,383.4 421.5,383.4 423.5,383.4 425.6,383.4 427.6,383.4 429.6,383.4 431.6,383.4 433.6,383.4 435.6,383.4 437.6,383.4 439.6,383.4 441.6,383.4 443.6,383.4 445.6,383.4 447.6,383.4 449.6,383.4 451.7,383.4 453.7,383.4 455.7,383.4 457.7,383.4 459.7,383.4 461.7,383.4 463.7,383.4 465.7,383.4 467.7,383.4 469.7,383.4 471.7,383.4 473.7,383.4 475.8,383.4 477.8,383.4 479.8,383.4 481.8,383.4 483.8,383.4 485.8,383.4 487.8,383.4 489.8,383.4 491.8,383.4 493.8,383.4 495.8,383.4 497.8,383.4 499.9,383.4 501.9,383.4 503.9,383.4 505.9,383.4 507.9,383.4 509.9,383.4 511.9,383.4 513.9,383.4 515.9,383.4 517.9,383.4 519.9,383.4 521.9,383.4 524.0,383.4 526.0,383.4 528.0,383.4 530.0,383.4 532.0,383.4 534.0,383.4 535.9,383.4 537.3,383.4 538.5,383.3 539.7,383.2 541.0,383.1 542.2,382.9 543.4,382.7 544.5,382.4 545.7,382.1 546.8,381.8 548.0,381.4 549.1,381.0 550.2,380.6 551.3,380.1 552.3,379.6 553.4,379.0 554.4,378.5 555.4,377.8 556.4,377.2 557.3,376.5 558.3,375.8 559.2,375.1 560.1,374.4 560.9,373.6 561.8,372.8 562.6,371.9 563.4,371.1 564.1,370.2 564.8,369.3 565.5,368.3 566.2,367.4 566.8,366.4 567.5,365.4 568.0,364.4 568.6,363.3 569.1,362.3 569.6,361.2 570.0,360.1 570.4,359.0 570.8,357.8 571.1,356.7 571.4,355.5 571.7,354.4 571.9,353.2 572.1,352.0 572.2,350.7 572.3,349.5 572.4,348.3 572.4,346.9 572.4,345.0 572.4,343.0 572.4,341.0 572.4,339.0 572.4,337.0 572.4,335.0 572.4,333.0 572.4,331.0 572.4,329.0 572.4,326.9 572.5,325.2 572.5,323.5 572.7,321.7 572.8,320.0 573.1,318.2 573.3,316.5 573.6,314.8 574.0,313.2 574.4,311.5 574.9,309.9 575.4,308.3 575.9,306.7 576.5,305.2 577.1,303.6 577.8,302.1 578.5,300.6 579.3,299.2 580.0,297.8 580.9,296.4 581.7,295.0 582.6,293.7 583.6,292.4 584.6,291.1 585.6,289.9 586.6,288.7 587.7,287.5 588.8,286.4 590.0,285.3 591.2,284.2 592.4,283.2 593.7,282.3 594.9,281.4 596.3,280.5 597.6,279.7 599.0,278.9 600.4,278.1 601.8,277.5 603.3,276.8 604.7,276.3 606.2,275.7 607.8,275.3 609.3,274.9 610.9,274.5 612.5,274.2 614.1,274.0 615.7,273.9 617.4,273.8 618.9,273.7 621.1,273.7 623.1,273.7 625.2,273.7 627.2,273.7 629.3,273.7 631.4,273.7 633.4,273.7 635.5,273.7 637.5,273.7 639.6,273.7 641.6,273.7 643.7,273.7" fill="none" stroke="#3a3940" stroke-width="1.1" stroke-linejoin="round"/>
<polyline points="47.0,279.6 49.1,279.6 51.1,279.6 53.2,279.6 55.2,279.6 57.3,279.6 59.3,279.6 61.4,279.6 63.4,279.6 65.5,279.6 67.5,279.6 69.6,279.6 71.6,279.6 73.7,279.6 75.7,279.6 77.8,279.6 79.8,279.6 81.9,279.6 83.9,279.6 86.0,279.6 87.3,279.6 88.6,279.7 89.9,279.9 91.2,280.1 92.5,280.4 93.7,280.7 95.0,281.1 96.2,281.5 97.4,282.1 98.6,282.6 99.7,283.2 100.9,283.9 102.0,284.6 103.1,285.4 104.1,286.2 105.2,287.0 106.2,287.9 107.2,288.9 108.2,289.8 109.1,290.9 110.1,291.9 111.0,293.0 111.8,294.2 112.7,295.3 113.5,296.5 114.3,297.8 115.0,299.1 115.8,300.4 116.5,301.7 117.1,303.1 117.8,304.5 118.4,305.9 119.0,307.4 119.5,308.8 120.0,310.4 120.5,311.9 120.9,313.5 121.4,315.0 121.7,316.6 122.1,318.3 122.4,319.9 122.6,321.6 122.9,323.3 123.1,325.0 123.2,326.7 123.3,328.5 123.4,330.2 123.4,331.9 123.5,334.0 123.6,336.1 123.7,338.3 123.8,340.4 123.9,342.6 124.0,344.7 124.1,346.9 124.2,348.4 124.2,349.9 124.4,351.3 124.5,352.7 124.8,354.1 125.0,355.5 125.3,356.9 125.7,358.2 126.1,359.6 126.5,360.9 127.0,362.2 127.5,363.4 128.1,364.7 128.7,365.9 129.3,367.1 130.0,368.3 130.7,369.5 131.4,370.6 132.2,371.7 133.0,372.8 133.9,373.9 134.8,374.9 135.7,375.9 136.6,376.9 137.6,377.8 138.6,378.7 139.6,379.6 140.7,380.5 141.8,381.3 142.9,382.1 144.0,382.8 145.2,383.5 146.4,384.2 147.6,384.8 148.8,385.4 150.1,386.0 151.3,386.5 152.6,386.9 153.9,387.4 155.3,387.8 156.6,388.1 158.0,388.4 159.4,388.7 160.8,388.9 162.2,389.1 163.6,389.2 165.0,389.3 166.5,389.3 168.5,389.3 170.5,389.3 172.5,389.3 174.5,389.3 176.5,389.3 178.5,389.3 180.6,389.3 182.6,389.3 184.6,389.3 186.6,389.3 188.6,389.3 190.6,389.3 192.6,389.3 194.6,389.3 196.6,389.3 198.6,389.3 200.6,389.3 202.6,389.3 204.7,389.3 206.7,389.3 208.7,389.3 210.7,389.3 212.7,389.3 214.7,389.3 216.7,389.3 218.7,389.3 220.7,389.3 222.7,389.3 224.7,389.3 226.7,389.3 228.8,389.3 230.8,389.3 232.8,389.3 234.8,389.3 236.8,389.3 238.8,389.3 240.8,389.3 242.8,389.3 244.8,389.3 246.8,389.3 248.8,389.3 250.8,389.3 252.9,389.3 254.9,389.3 256.9,389.3 258.9,389.3 260.9,389.3 262.9,389.3 264.9,389.3 266.9,389.3 268.9,389.3 270.9,389.3 272.9,389.3 274.9,389.3 276.9,389.3 279.0,389.3 281.0,389.3 283.0,389.3 285.0,389.3 287.0,389.3 289.0,389.3 291.0,389.3 293.0,389.3 295.0,389.3 297.0,389.3 299.0,389.3 301.0,389.3 303.1,389.3 305.1,389.3 307.1,389.3 309.1,389.3 311.1,389.3 313.1,389.3 315.1,389.3 317.1,389.3 319.1,389.3 321.1,389.3 323.1,389.3 325.1,389.3 327.2,389.3 329.2,389.3 331.2,389.3 333.2,389.3 335.2,389.3 337.2,389.3 339.2,389.3 341.2,389.3 343.2,389.3 345.2,389.3 347.2,389.3 349.2,389.3 351.2,389.3 353.3,389.3 355.3,389.3 357.3,389.3 359.3,389.3 361.3,389.3 363.3,389.3 365.3,389.3 367.3,389.3 369.3,389.3 371.3,389.3 373.3,389.3 375.3,389.3 377.4,389.3 379.4,389.3 381.4,389.3 383.4,389.3 385.4,389.3 387.4,389.3 389.4,389.3 391.4,389.3 393.4,389.3 395.4,389.3 397.4,389.3 399.4,389.3 401.5,389.3 403.5,389.3 405.5,389.3 407.5,389.3 409.5,389.3 411.5,389.3 413.5,389.3 415.5,389.3 417.5,389.3 419.5,389.3 421.5,389.3 423.5,389.3 425.6,389.3 427.6,389.3 429.6,389.3 431.6,389.3 433.6,389.3 435.6,389.3 437.6,389.3 439.6,389.3 441.6,389.3 443.6,389.3 445.6,389.3 447.6,389.3 449.6,389.3 451.7,389.3 453.7,389.3 455.7,389.3 457.7,389.3 459.7,389.3 461.7,389.3 463.7,389.3 465.7,389.3 467.7,389.3 469.7,389.3 471.7,389.3 473.7,389.3 475.8,389.3 477.8,389.3 479.8,389.3 481.8,389.3 483.8,389.3 485.8,389.3 487.8,389.3 489.8,389.3 491.8,389.3 493.8,389.3 495.8,389.3 497.8,389.3 499.9,389.3 501.9,389.3 503.9,389.3 505.9,389.3 507.9,389.3 509.9,389.3 511.9,389.3 513.9,389.3 515.9,389.3 517.9,389.3 519.9,389.3 521.9,389.3 524.0,389.3 526.0,389.3 528.0,389.3 530.0,389.3 532.0,389.3 534.0,389.3 536.0,389.3 537.5,389.3 538.9,389.2 540.3,389.1 541.7,388.9 543.1,388.7 544.5,388.4 545.9,388.1 547.2,387.8 548.6,387.4 549.9,386.9 551.2,386.5 552.5,386.0 553.7,385.4 554.9,384.8 556.1,384.2 557.3,383.5 558.5,382.8 559.6,382.1 560.7,381.3 561.8,380.5 562.9,379.6 563.9,378.7 564.9,377.8 565.9,376.9 566.8,375.9 567.7,374.9 568.6,373.9 569.5,372.8 570.3,371.7 571.1,370.6 571.8,369.5 572.5,368.3 573.2,367.1 573.8,365.9 574.4,364.7 575.0,363.5 575.5,362.2 575.9,360.9 576.4,359.6 576.8,358.2 577.1,356.9 577.4,355.5 577.7,354.1 577.9,352.7 578.1,351.3 578.2,349.9 578.3,348.5 578.3,347.0 578.3,345.0 578.3,343.0 578.3,341.0 578.3,339.0 578.3,337.0 578.3,335.0 578.3,333.0 578.3,331.0 578.3,329.0 578.3,327.0 578.3,325.4 578.4,323.8 578.5,322.2 578.6,320.6 578.8,319.1 579.1,317.5 579.4,316.0 579.7,314.5 580.1,313.0 580.5,311.6 580.9,310.1 581.4,308.7 581.9,307.3 582.5,305.9 583.1,304.6 583.7,303.2 584.4,301.9 585.1,300.7 585.9,299.4 586.6,298.2 587.4,297.0 588.3,295.9 589.1,294.7 590.0,293.6 591.0,292.6 591.9,291.6 592.9,290.6 593.9,289.6 595.0,288.7 596.0,287.8 597.1,287.0 598.3,286.2 599.4,285.4 600.6,284.7 601.8,284.0 603.0,283.4 604.2,282.8 605.5,282.2 606.8,281.8 608.1,281.3 609.4,280.9 610.7,280.6 612.0,280.3 613.4,280.0 614.8,279.8 616.2,279.7 617.6,279.6 619.0,279.6 621.1,279.6 623.1,279.6 625.2,279.6 627.2,279.6 629.3,279.6 631.4,279.6 633.4,279.6 635.5,279.6 637.5,279.6 639.6,279.6 641.6,279.6 643.7,279.6 645.8,279.6 647.8,279.6 649.9,279.6 651.9,279.6 654.0,279.6" fill="none" stroke="#3a3940" stroke-width="1.1" stroke-linejoin="round"/>
<polyline points="47.0,285.4 49.1,285.4 51.1,285.4 53.2,285.4 55.2,285.4 57.3,285.4 59.3,285.4 61.4,285.4 63.4,285.4 65.5,285.4 67.5,285.4 69.6,285.4 71.6,285.4 73.7,285.4 75.7,285.4 77.8,285.4 79.8,285.4 81.9,285.4 83.9,285.4 86.0,285.4 87.0,285.5 88.1,285.5 89.1,285.6 90.1,285.8 91.1,286.0 92.1,286.3 93.1,286.6 94.0,287.0 95.0,287.4 95.9,287.8 96.9,288.3 97.8,288.9 98.7,289.5 99.6,290.1 100.5,290.8 101.4,291.5 102.3,292.3 103.1,293.1 104.0,293.9 104.8,294.8 105.6,295.7 106.4,296.6 107.1,297.6 107.9,298.7 108.6,299.7 109.3,300.8 110.0,302.0 110.6,303.1 111.2,304.3 111.8,305.6 112.4,306.8 113.0,308.1 113.5,309.4 114.0,310.8 114.5,312.2 114.9,313.6 115.3,315.0 115.7,316.4 116.0,317.9 116.3,319.4 116.6,320.9 116.9,322.5 117.1,324.0 117.2,325.6 117.4,327.2 117.5,328.8 117.5,330.4 117.6,332.1 117.7,334.3 117.8,336.4 117.9,338.6 118.0,340.7 118.1,342.9 118.2,345.0 118.3,347.1 118.3,348.7 118.4,350.3 118.5,351.9 118.7,353.5 119.0,355.1 119.3,356.7 119.6,358.3 120.0,359.8 120.5,361.3 121.0,362.8 121.5,364.3 122.1,365.7 122.8,367.2 123.4,368.6 124.2,369.9 124.9,371.3 125.7,372.6 126.6,373.9 127.5,375.2 128.4,376.4 129.4,377.6 130.4,378.8 131.4,379.9 132.5,381.0 133.6,382.1 134.7,383.1 135.9,384.1 137.1,385.1 138.3,386.0 139.6,386.9 140.9,387.7 142.2,388.6 143.6,389.3 145.0,390.0 146.4,390.7 147.8,391.3 149.2,391.9 150.7,392.5 152.2,393.0 153.7,393.4 155.3,393.8 156.8,394.1 158.4,394.4 160.0,394.7 161.6,394.9 163.2,395.0 164.9,395.1 166.5,395.1 168.5,395.1 170.5,395.1 172.5,395.1 174.5,395.1 176.5,395.1 178.5,395.1 180.6,395.1 182.6,395.1 184.6,395.1 186.6,395.1 188.6,395.1 190.6,395.1 192.6,395.1 194.6,395.1 196.6,395.1 198.6,395.1 200.6,395.1 202.6,395.1 204.7,395.1 206.7,395.1 208.7,395.1 210.7,395.1 212.7,395.1 214.7,395.1 216.7,395.1 218.7,395.1 220.7,395.1 222.7,395.1 224.7,395.1 226.7,395.1 228.8,395.1 230.8,395.1 232.8,395.1 234.8,395.1 236.8,395.1 238.8,395.1 240.8,395.1 242.8,395.1 244.8,395.1 246.8,395.1 248.8,395.1 250.8,395.1 252.9,395.1 254.9,395.1 256.9,395.1 258.9,395.1 260.9,395.1 262.9,395.1 264.9,395.1 266.9,395.1 268.9,395.1 270.9,395.1 272.9,395.1 274.9,395.1 276.9,395.1 279.0,395.1 281.0,395.1 283.0,395.1 285.0,395.1 287.0,395.1 289.0,395.1 291.0,395.1 293.0,395.1 295.0,395.1 297.0,395.1 299.0,395.1 301.0,395.1 303.1,395.1 305.1,395.1 307.1,395.1 309.1,395.1 311.1,395.1 313.1,395.1 315.1,395.1 317.1,395.1 319.1,395.1 321.1,395.1 323.1,395.1 325.1,395.1 327.2,395.1 329.2,395.1 331.2,395.1 333.2,395.1 335.2,395.1 337.2,395.1 339.2,395.1 341.2,395.1 343.2,395.1 345.2,395.1 347.2,395.1 349.2,395.1 351.2,395.1 353.3,395.1 355.3,395.1 357.3,395.1 359.3,395.1 361.3,395.1 363.3,395.1 365.3,395.1 367.3,395.1 369.3,395.1 371.3,395.1 373.3,395.1 375.3,395.1 377.4,395.1 379.4,395.1 381.4,395.1 383.4,395.1 385.4,395.1 387.4,395.1 389.4,395.1 391.4,395.1 393.4,395.1 395.4,395.1 397.4,395.1 399.4,395.1 401.5,395.1 403.5,395.1 405.5,395.1 407.5,395.1 409.5,395.1 411.5,395.1 413.5,395.1 415.5,395.1 417.5,395.1 419.5,395.1 421.5,395.1 423.5,395.1 425.6,395.1 427.6,395.1 429.6,395.1 431.6,395.1 433.6,395.1 435.6,395.1 437.6,395.1 439.6,395.1 441.6,395.1 443.6,395.1 445.6,395.1 447.6,395.1 449.6,395.1 451.7,395.1 453.7,395.1 455.7,395.1 457.7,395.1 459.7,395.1 461.7,395.1 463.7,395.1 465.7,395.1 467.7,395.1 469.7,395.1 471.7,395.1 473.7,395.1 475.8,395.1 477.8,395.1 479.8,395.1 481.8,395.1 483.8,395.1 485.8,395.1 487.8,395.1 489.8,395.1 491.8,395.1 493.8,395.1 495.8,395.1 497.8,395.1 499.9,395.1 501.9,395.1 503.9,395.1 505.9,395.1 507.9,395.1 509.9,395.1 511.9,395.1 513.9,395.1 515.9,395.1 517.9,395.1 519.9,395.1 521.9,395.1 524.0,395.1 526.0,395.1 528.0,395.1 530.0,395.1 532.0,395.1 534.0,395.1 536.0,395.1 537.7,395.1 539.3,395.0 540.9,394.9 542.5,394.7 544.1,394.4 545.7,394.1 547.3,393.8 548.8,393.4 550.3,393.0 551.8,392.5 553.3,391.9 554.7,391.3 556.2,390.7 557.6,390.0 558.9,389.3 560.3,388.6 561.6,387.7 562.9,386.9 564.2,386.0 565.4,385.1 566.6,384.1 567.8,383.1 568.9,382.1 570.0,381.0 571.1,379.9 572.1,378.8 573.1,377.6 574.1,376.4 575.0,375.2 575.9,373.9 576.7,372.6 577.6,371.3 578.3,369.9 579.0,368.6 579.7,367.2 580.3,365.7 580.9,364.3 581.5,362.8 582.0,361.3 582.4,359.8 582.8,358.3 583.1,356.7 583.4,355.1 583.7,353.5 583.9,351.9 584.0,350.3 584.1,348.7 584.1,347.0 584.1,345.0 584.1,343.0 584.1,341.0 584.1,339.0 584.1,337.0 584.1,335.0 584.1,333.0 584.1,331.0 584.1,329.0 584.1,327.0 584.1,325.6 584.2,324.1 584.3,322.7 584.5,321.3 584.6,319.9 584.8,318.5 585.1,317.2 585.4,315.8 585.7,314.5 586.1,313.2 586.5,311.9 586.9,310.7 587.4,309.4 587.9,308.2 588.4,307.0 589.0,305.8 589.6,304.7 590.2,303.6 590.8,302.5 591.5,301.4 592.2,300.4 593.0,299.4 593.7,298.4 594.5,297.4 595.3,296.5 596.1,295.6 597.0,294.8 597.9,293.9 598.8,293.1 599.7,292.4 600.6,291.7 601.6,291.0 602.6,290.3 603.6,289.7 604.6,289.2 605.6,288.6 606.6,288.1 607.7,287.7 608.8,287.2 609.9,286.9 611.0,286.5 612.1,286.2 613.2,286.0 614.3,285.8 615.5,285.6 616.6,285.5 617.8,285.4 619.0,285.4 621.1,285.4 623.1,285.4 625.2,285.4 627.2,285.4 629.3,285.4 631.4,285.4 633.4,285.4 635.5,285.4 637.5,285.4 639.6,285.4 641.6,285.4 643.7,285.4 645.8,285.4 647.8,285.4 649.9,285.4 651.9,285.4 654.0,285.4" fill="none" stroke="#3a3940" stroke-width="1.1" stroke-linejoin="round"/>
<polyline points="47.0,291.3 49.1,291.3 51.1,291.3 53.2,291.3 55.2,291.3 57.3,291.3 59.3,291.3 61.4,291.3 63.4,291.3 65.5,291.3 67.5,291.3 69.6,291.3 71.6,291.3 73.7,291.3 75.7,291.3 77.8,291.3 79.8,291.3 81.9,291.3 83.9,291.3 85.9,291.3 86.7,291.3 87.5,291.3 88.2,291.4 89.0,291.6 89.7,291.7 90.4,291.9 91.1,292.2 91.9,292.4 92.6,292.7 93.3,293.1 94.0,293.5 94.8,293.9 95.5,294.3 96.2,294.8 96.9,295.4 97.6,296.0 98.4,296.6 99.1,297.2 99.8,297.9 100.4,298.7 101.1,299.5 101.8,300.3 102.4,301.1 103.1,302.0 103.7,302.9 104.3,303.9 104.9,304.9 105.5,305.9 106.0,307.0 106.6,308.1 107.1,309.2 107.6,310.4 108.0,311.5 108.5,312.7 108.9,314.0 109.3,315.2 109.7,316.5 110.0,317.8 110.3,319.2 110.6,320.5 110.8,321.9 111.1,323.3 111.3,324.7 111.4,326.2 111.5,327.6 111.6,329.1 111.7,330.6 111.7,332.3 111.8,334.6 111.9,336.7 112.0,338.8 112.1,341.0 112.2,343.1 112.3,345.3 112.4,347.3 112.5,348.9 112.6,350.7 112.7,352.5 112.9,354.3 113.2,356.1 113.6,357.9 114.0,359.6 114.4,361.4 114.9,363.1 115.5,364.8 116.1,366.4 116.8,368.0 117.5,369.6 118.2,371.2 119.0,372.8 119.9,374.3 120.8,375.7 121.8,377.2 122.7,378.6 123.8,380.0 124.9,381.3 126.0,382.7 127.2,383.9 128.4,385.2 129.6,386.4 130.9,387.5 132.2,388.7 133.5,389.7 134.9,390.8 136.3,391.8 137.8,392.7 139.3,393.6 140.8,394.5 142.3,395.3 143.9,396.0 145.5,396.7 147.1,397.4 148.8,398.0 150.5,398.5 152.2,399.0 153.9,399.5 155.6,399.9 157.4,400.2 159.2,400.5 161.0,400.7 162.8,400.9 164.7,400.9 166.4,401.0 168.5,401.0 170.5,401.0 172.5,401.0 174.5,401.0 176.5,401.0 178.5,401.0 180.6,401.0 182.6,401.0 184.6,401.0 186.6,401.0 188.6,401.0 190.6,401.0 192.6,401.0 194.6,401.0 196.6,401.0 198.6,401.0 200.6,401.0 202.6,401.0 204.7,401.0 206.7,401.0 208.7,401.0 210.7,401.0 212.7,401.0 214.7,401.0 216.7,401.0 218.7,401.0 220.7,401.0 222.7,401.0 224.7,401.0 226.7,401.0 228.8,401.0 230.8,401.0 232.8,401.0 234.8,401.0 236.8,401.0 238.8,401.0 240.8,401.0 242.8,401.0 244.8,401.0 246.8,401.0 248.8,401.0 250.8,401.0 252.9,401.0 254.9,401.0 256.9,401.0 258.9,401.0 260.9,401.0 262.9,401.0 264.9,401.0 266.9,401.0 268.9,401.0 270.9,401.0 272.9,401.0 274.9,401.0 276.9,401.0 279.0,401.0 281.0,401.0 283.0,401.0 285.0,401.0 287.0,401.0 289.0,401.0 291.0,401.0 293.0,401.0 295.0,401.0 297.0,401.0 299.0,401.0 301.0,401.0 303.1,401.0 305.1,401.0 307.1,401.0 309.1,401.0 311.1,401.0 313.1,401.0 315.1,401.0 317.1,401.0 319.1,401.0 321.1,401.0 323.1,401.0 325.1,401.0 327.2,401.0 329.2,401.0 331.2,401.0 333.2,401.0 335.2,401.0 337.2,401.0 339.2,401.0 341.2,401.0 343.2,401.0 345.2,401.0 347.2,401.0 349.2,401.0 351.2,401.0 353.3,401.0 355.3,401.0 357.3,401.0 359.3,401.0 361.3,401.0 363.3,401.0 365.3,401.0 367.3,401.0 369.3,401.0 371.3,401.0 373.3,401.0 375.3,401.0 377.4,401.0 379.4,401.0 381.4,401.0 383.4,401.0 385.4,401.0 387.4,401.0 389.4,401.0 391.4,401.0 393.4,401.0 395.4,401.0 397.4,401.0 399.4,401.0 401.5,401.0 403.5,401.0 405.5,401.0 407.5,401.0 409.5,401.0 411.5,401.0 413.5,401.0 415.5,401.0 417.5,401.0 419.5,401.0 421.5,401.0 423.5,401.0 425.6,401.0 427.6,401.0 429.6,401.0 431.6,401.0 433.6,401.0 435.6,401.0 437.6,401.0 439.6,401.0 441.6,401.0 443.6,401.0 445.6,401.0 447.6,401.0 449.6,401.0 451.7,401.0 453.7,401.0 455.7,401.0 457.7,401.0 459.7,401.0 461.7,401.0 463.7,401.0 465.7,401.0 467.7,401.0 469.7,401.0 471.7,401.0 473.7,401.0 475.8,401.0 477.8,401.0 479.8,401.0 481.8,401.0 483.8,401.0 485.8,401.0 487.8,401.0 489.8,401.0 491.8,401.0 493.8,401.0 495.8,401.0 497.8,401.0 499.9,401.0 501.9,401.0 503.9,401.0 505.9,401.0 507.9,401.0 509.9,401.0 511.9,401.0 513.9,401.0 515.9,401.0 517.9,401.0 519.9,401.0 521.9,401.0 524.0,401.0 526.0,401.0 528.0,401.0 530.0,401.0 532.0,401.0 534.0,401.0 536.1,401.0 537.8,400.9 539.7,400.9 541.5,400.7 543.3,400.5 545.1,400.2 546.9,399.9 548.6,399.5 550.3,399.0 552.0,398.5 553.7,398.0 555.4,397.4 557.0,396.7 558.6,396.0 560.2,395.3 561.7,394.5 563.2,393.6 564.7,392.7 566.2,391.8 567.6,390.8 569.0,389.7 570.3,388.6 571.7,387.5 572.9,386.4 574.2,385.2 575.4,383.9 576.5,382.7 577.6,381.3 578.7,380.0 579.8,378.6 580.8,377.2 581.7,375.7 582.6,374.2 583.5,372.7 584.3,371.2 585.0,369.6 585.7,368.0 586.4,366.4 587.0,364.7 587.5,363.0 588.0,361.3 588.5,359.6 588.9,357.9 589.2,356.1 589.5,354.3 589.7,352.5 589.9,350.7 589.9,348.8 590.0,347.1 590.0,345.0 590.0,343.0 590.0,341.0 590.0,339.0 590.0,337.0 590.0,335.0 590.0,333.0 590.0,331.0 590.0,329.0 590.0,327.1 590.0,325.7 590.0,324.5 590.1,323.2 590.3,322.0 590.4,320.7 590.6,319.5 590.8,318.3 591.1,317.2 591.4,316.0 591.7,314.9 592.1,313.7 592.4,312.6 592.8,311.6 593.3,310.5 593.7,309.5 594.2,308.4 594.7,307.5 595.3,306.5 595.8,305.5 596.4,304.6 597.0,303.7 597.6,302.9 598.3,302.0 599.0,301.2 599.6,300.4 600.3,299.7 601.1,299.0 601.8,298.3 602.6,297.6 603.3,297.0 604.1,296.4 604.9,295.8 605.7,295.3 606.5,294.8 607.4,294.3 608.2,293.9 609.0,293.4 609.9,293.1 610.8,292.7 611.7,292.4 612.5,292.2 613.4,291.9 614.3,291.7 615.3,291.6 616.2,291.4 617.1,291.4 618.0,291.3 619.1,291.3 621.1,291.3 623.1,291.3 625.2,291.3 627.2,291.3 629.3,291.3 631.4,291.3 633.4,291.3 635.5,291.3 637.5,291.3 639.6,291.3 641.6,291.3 643.7,291.3 645.8,291.3 647.8,291.3 649.9,291.3 651.9,291.3 654.0,291.3" fill="none" stroke="#3a3940" stroke-width="1.1" stroke-linejoin="round"/>
<path d="M274,395 H281 L274,400.9 Z" fill="#879ec7"/>
<path d="M418,383.5 H425.6 L418,389.3 Z" fill="#879ec7"/>
<path d="M618.4,279.5 H623.8 V273.7 Z" fill="#879ec7"/>
<path d="M274,400.9 L281,395 M418,389.3 L425.6,383.5 M618.4,279.5 L623.8,273.7" stroke="#3a3940" stroke-width="1" fill="none"/>
<path d="M274,395 H281 M418,383.5 H425.6 M274,400.9 H276 M418,389.3 H420" stroke="#3a3940" stroke-width="1.1" fill="none"/>
<path d="M57,273.7 V279.5 M643.4,273.7 V279.5" stroke="#3a3940" stroke-width="1.1" fill="none"/>
<rect x="47" y="227.20" width="65" height="5.80" fill="#879ec7"/>
<rect x="47" y="233.00" width="65" height="5.80" fill="#e37c72"/>
<path d="M47,227.20 H112" stroke="#3a3940" stroke-width="1.1"/>
<path d="M47,233.00 H112" stroke="#3a3940" stroke-width="1.1"/>
<path d="M47,238.80 H112" stroke="#3a3940" stroke-width="1.1"/>
<rect x="590" y="227.40" width="64" height="5.80" fill="#e37c72"/>
<rect x="590" y="233.20" width="64" height="5.80" fill="#e37c72"/>
<path d="M590,227.40 H654" stroke="#3a3940" stroke-width="1.1"/>
<path d="M590,233.20 H654" stroke="#3a3940" stroke-width="1.1"/>
<path d="M590,239.00 H654" stroke="#3a3940" stroke-width="1.1"/>
<rect x="0" y="202.40" width="19.5" height="9.80" fill="#879ec7"/>
<path d="M0,202.40 H19.5" stroke="#3a3940" stroke-width="1.1"/>
<path d="M0,212.20 H19.5" stroke="#3a3940" stroke-width="1.1"/>
<rect x="681.5" y="202.40" width="18.5" height="9.80" fill="#879ec7"/>
<path d="M681.5,202.40 H700" stroke="#3a3940" stroke-width="1.1"/>
<path d="M681.5,212.20 H700" stroke="#3a3940" stroke-width="1.1"/>
<rect x="0" y="228.40" width="19.5" height="9.80" fill="#879ec7"/>
<path d="M0,228.40 H19.5" stroke="#3a3940" stroke-width="1.1"/>
<path d="M0,238.20 H19.5" stroke="#3a3940" stroke-width="1.1"/>
<rect x="681.5" y="228.40" width="18.5" height="9.80" fill="#879ec7"/>
<path d="M681.5,228.40 H700" stroke="#3a3940" stroke-width="1.1"/>
<path d="M681.5,238.20 H700" stroke="#3a3940" stroke-width="1.1"/>
<rect x="0" y="254.00" width="19.5" height="9.80" fill="#879ec7"/>
<path d="M0,254.00 H19.5" stroke="#3a3940" stroke-width="1.1"/>
<path d="M0,263.80 H19.5" stroke="#3a3940" stroke-width="1.1"/>
<rect x="681.5" y="254.00" width="18.5" height="9.80" fill="#879ec7"/>
<path d="M681.5,254.00 H700" stroke="#3a3940" stroke-width="1.1"/>
<path d="M681.5,263.80 H700" stroke="#3a3940" stroke-width="1.1"/>
<rect x="0" y="280.30" width="19.5" height="9.80" fill="#879ec7"/>
<path d="M0,280.30 H19.5" stroke="#3a3940" stroke-width="1.1"/>
<path d="M0,290.10 H19.5" stroke="#3a3940" stroke-width="1.1"/>
<rect x="681.5" y="280.30" width="18.5" height="9.80" fill="#e37c72"/>
<path d="M681.5,280.30 H700" stroke="#3a3940" stroke-width="1.1"/>
<path d="M681.5,290.10 H700" stroke="#3a3940" stroke-width="1.1"/>
<rect x="-3" y="199.6" width="5.4" height="15.2" rx="1.6" fill="#e37c72" stroke="#3a3940" stroke-width="1.1"/>
<rect x="-3" y="226.10000000000002" width="4.6" height="14.4" rx="1.4" fill="#879ec7" stroke="#3a3940" stroke-width="1.1"/>
<rect x="-3" y="251.7" width="4.6" height="14.4" rx="1.4" fill="#879ec7" stroke="#3a3940" stroke-width="1.1"/>
<rect x="-3" y="278.0" width="4.6" height="14.4" rx="1.4" fill="#879ec7" stroke="#3a3940" stroke-width="1.1"/>
<rect x="698.3" y="199.6" width="6" height="15.2" rx="1.6" fill="#c9655f" stroke="#3a3940" stroke-width="1.1"/>
<rect x="698.2" y="226.10000000000002" width="6" height="14.4" rx="1.4" fill="#55545a" stroke="#3a3940" stroke-width="1.1"/>
<rect x="698.2" y="251.7" width="6" height="14.4" rx="1.4" fill="#55545a" stroke="#3a3940" stroke-width="1.1"/>
<rect x="698.2" y="278.0" width="6" height="14.4" rx="1.4" fill="#cc685f" stroke="#3a3940" stroke-width="1.1"/>
<rect x="19" y="199.0" width="27.9" height="16.6" rx="3.2" fill="#656365" stroke="#3a3940" stroke-width="1.1"/>
<path d="M23.6,199.8 V214.79999999999998" stroke="#3f3e41" stroke-width="1.1"/>
<path d="M31,199.8 V214.79999999999998" stroke="#3f3e41" stroke-width="1.1"/>
<path d="M38.5,199.8 V214.79999999999998" stroke="#3f3e41" stroke-width="1.1"/>
<path d="M43.4,199.8 V214.79999999999998" stroke="#3f3e41" stroke-width="1.1"/>
<rect x="19" y="225.0" width="27.9" height="16.6" rx="3.2" fill="#656365" stroke="#3a3940" stroke-width="1.1"/>
<path d="M23.6,225.8 V240.79999999999998" stroke="#3f3e41" stroke-width="1.1"/>
<path d="M31,225.8 V240.79999999999998" stroke="#3f3e41" stroke-width="1.1"/>
<path d="M38.5,225.8 V240.79999999999998" stroke="#3f3e41" stroke-width="1.1"/>
<path d="M43.4,225.8 V240.79999999999998" stroke="#3f3e41" stroke-width="1.1"/>
<rect x="19" y="250.59999999999997" width="27.9" height="16.6" rx="3.2" fill="#656365" stroke="#3a3940" stroke-width="1.1"/>
<path d="M23.6,251.39999999999998 V266.4" stroke="#3f3e41" stroke-width="1.1"/>
<path d="M31,251.39999999999998 V266.4" stroke="#3f3e41" stroke-width="1.1"/>
<path d="M38.5,251.39999999999998 V266.4" stroke="#3f3e41" stroke-width="1.1"/>
<path d="M43.4,251.39999999999998 V266.4" stroke="#3f3e41" stroke-width="1.1"/>
<rect x="19" y="276.9" width="27.9" height="16.6" rx="3.2" fill="#656365" stroke="#3a3940" stroke-width="1.1"/>
<path d="M23.6,277.7 V292.7" stroke="#3f3e41" stroke-width="1.1"/>
<path d="M31,277.7 V292.7" stroke="#3f3e41" stroke-width="1.1"/>
<path d="M38.5,277.7 V292.7" stroke="#3f3e41" stroke-width="1.1"/>
<path d="M43.4,277.7 V292.7" stroke="#3f3e41" stroke-width="1.1"/>
<rect x="654" y="199.0" width="27.8" height="16.6" rx="3.2" fill="#656365" stroke="#3a3940" stroke-width="1.1"/>
<path d="M658,199.8 V214.79999999999998" stroke="#3f3e41" stroke-width="1.1"/>
<path d="M662.6,199.8 V214.79999999999998" stroke="#3f3e41" stroke-width="1.1"/>
<path d="M669.6,199.8 V214.79999999999998" stroke="#3f3e41" stroke-width="1.1"/>
<path d="M677.4,199.8 V214.79999999999998" stroke="#3f3e41" stroke-width="1.1"/>
<rect x="654" y="225.0" width="27.8" height="16.6" rx="3.2" fill="#656365" stroke="#3a3940" stroke-width="1.1"/>
<path d="M658,225.8 V240.79999999999998" stroke="#3f3e41" stroke-width="1.1"/>
<path d="M662.6,225.8 V240.79999999999998" stroke="#3f3e41" stroke-width="1.1"/>
<path d="M669.6,225.8 V240.79999999999998" stroke="#3f3e41" stroke-width="1.1"/>
<path d="M677.4,225.8 V240.79999999999998" stroke="#3f3e41" stroke-width="1.1"/>
<rect x="654" y="250.59999999999997" width="27.8" height="16.6" rx="3.2" fill="#656365" stroke="#3a3940" stroke-width="1.1"/>
<path d="M658,251.39999999999998 V266.4" stroke="#3f3e41" stroke-width="1.1"/>
<path d="M662.6,251.39999999999998 V266.4" stroke="#3f3e41" stroke-width="1.1"/>
<path d="M669.6,251.39999999999998 V266.4" stroke="#3f3e41" stroke-width="1.1"/>
<path d="M677.4,251.39999999999998 V266.4" stroke="#3f3e41" stroke-width="1.1"/>
<rect x="654" y="276.9" width="27.8" height="16.6" rx="3.2" fill="#e37c72" stroke="#3a3940" stroke-width="1.1"/>
<path d="M658.6,277.7 V292.7" stroke="#4a3a3c" stroke-width="1.1"/>
<path d="M663,277.7 V292.7" stroke="#4a3a3c" stroke-width="1.1"/>
<path d="M670,277.7 V292.7" stroke="#4a3a3c" stroke-width="1.1"/>
<path d="M676.7,277.7 V292.7" stroke="#4a3a3c" stroke-width="1.1"/>
<rect x="111.4" y="216.4" width="15.6" height="35.8" rx="3.2" fill="#8e8c8c" stroke="#3a3940" stroke-width="1.1"/>
<rect x="574.4" y="216.4" width="15.6" height="35.8" rx="3.2" fill="#8e8c8c" stroke="#3a3940" stroke-width="1.1"/>
<rect x="336.3" y="130" width="28.5" height="78.2" rx="3.2" fill="#615f5f" stroke="#4c4a4d" stroke-width="1"/>
<rect x="334" y="120" width="33.5" height="15.2" rx="1.5" fill="#615f5f" stroke="#4c4a4d" stroke-width="1"/>
<rect x="331" y="104" width="38.7" height="19.3" rx="1.5" fill="#615f5f" stroke="#4c4a4d" stroke-width="1"/>
<rect x="292.8" y="66" width="116" height="41.4" rx="3.6" fill="#656363" stroke="#434144" stroke-width="1.3"/>
<text x="306.4" y="94.8" font-size="23" font-weight="bold" style="fill:#2a292c" textLength="88" lengthAdjust="spacingAndGlyphs">DELTA:</text>
<path d="M364.6,144.6 H405" stroke="#454449" stroke-width="1.1" fill="none"/>
<path d="M408,144.6 L400.8,140.9 L400.8,148.29999999999998 Z" fill="#3a3940"/>
<path d="M364.6,193.6 H405" stroke="#454449" stroke-width="1.1" fill="none"/>
<path d="M408,193.6 L400.8,189.9 L400.8,197.29999999999998 Z" fill="#3a3940"/>
<path d="M279.4,164.6 H336.2" stroke="#454449" stroke-width="1.1" fill="none"/>
<path d="M294,164.6 L300.6,160.9 L300.6,168.29999999999998 Z" fill="#3a3940"/>
<path d="M280,242 H405" stroke="#454449" stroke-width="1.1" fill="none"/>
<path d="M295,242 L301.6,238.3 L301.6,245.7 Z" fill="#3a3940"/>
<path d="M408,242 L400.8,238.3 L400.8,245.7 Z" fill="#3a3940"/>
<path d="M47.4,207.2 H65" stroke="#454449" stroke-width="1.1"/>
<path d="M53.2,207.2 L58,204.1 L58,210.29999999999998 Z" fill="#3a3940"/>
<path d="M635.4,207.2 H653.6" stroke="#454449" stroke-width="1.1"/>
<path d="M642.6,207.2 L644.4,204.2 L648.2,207.2 L644.4,210.2 Z" fill="#3a3940"/>
<path d="M47.4,258.8 H65" stroke="#454449" stroke-width="1.1"/>
<path d="M53.2,258.8 L58,255.70000000000002 L58,261.90000000000003 Z" fill="#3a3940"/>
<path d="M635.4,258.8 H653.6" stroke="#454449" stroke-width="1.1"/>
<ellipse cx="644.8" cy="258.8" rx="1.8" ry="2.8" fill="#3a3940"/>
<path d="M253.4,401 V416" stroke="#454449" stroke-width="1.1"/>
<path d="M253.4,419 L250.1,412.8 L256.7,412.8 Z" fill="#3a3940"/>
<path d="M350.4,401 V416" stroke="#454449" stroke-width="1.1"/>
<path d="M350.4,419 L347.09999999999997,412.8 L353.7,412.8 Z" fill="#3a3940"/>
<path d="M447.4,401 V416" stroke="#454449" stroke-width="1.1"/>
<path d="M447.4,419 L444.09999999999997,412.8 L450.7,412.8 Z" fill="#3a3940"/>
<text x="9.6" y="116.6" font-size="11" >Typical</text>
<text x="9.6" y="131" font-size="11" textLength="55.4" lengthAdjust="spacingAndGlyphs">appactticior</text>
<text x="9.6" y="145" font-size="11" textLength="64" lengthAdjust="spacingAndGlyphs">vissatice tor</text>
<text x="9.6" y="159" font-size="11" textLength="84" lengthAdjust="spacingAndGlyphs">cletiss disoctice</text>
<text x="0" y="384.4" font-size="11" textLength="64.4" lengthAdjust="spacingAndGlyphs">itcittcatonsn</text>
<text x="68.6" y="384" font-size="10.4" >f</text>
<text x="0" y="399" font-size="11" textLength="53.4" lengthAdjust="spacingAndGlyphs">d wetoe &amp;</text>
<text x="0" y="414" font-size="11" textLength="59" lengthAdjust="spacingAndGlyphs">btentsnnts)</text>
<text x="67.6" y="211.2" font-size="10.6" textLength="22.6" lengthAdjust="spacingAndGlyphs">WYE</text>
<text x="67.8" y="262.8" font-size="10.6" textLength="22.6" lengthAdjust="spacingAndGlyphs">WYE</text>
<text x="610.4" y="210.8" font-size="10.6" textLength="21.8" lengthAdjust="spacingAndGlyphs">WYE</text>
<text x="610.6" y="262.4" font-size="10.6" textLength="21.6" lengthAdjust="spacingAndGlyphs">WYE</text>
<text x="240.4" y="168.4" font-size="11" textLength="36" lengthAdjust="spacingAndGlyphs">687 na:</text>
<text x="240.4" y="245.8" font-size="11" textLength="36" lengthAdjust="spacingAndGlyphs">687 nd:</text>
<text x="413" y="149" font-size="10.6" textLength="48.2" lengthAdjust="spacingAndGlyphs">WTE 9800</text>
<text x="413" y="197.8" font-size="10.6" textLength="48.2" lengthAdjust="spacingAndGlyphs">WTE 9I(0()</text>
<text x="413" y="246" font-size="10.6" textLength="48.2" lengthAdjust="spacingAndGlyphs">WTE 6900</text>
<text x="642.4" y="111.6" font-size="11" >pallee</text>
<text x="680" y="111.6" font-size="11" >to p</text>
<text x="642.4" y="126" font-size="11" textLength="59.4" lengthAdjust="spacingAndGlyphs">peauracithe</text>
<text x="607.4" y="173" font-size="11" textLength="45.6" lengthAdjust="spacingAndGlyphs">bsatocns</text>
<text x="607.4" y="188" font-size="11" >discutaane</text>
<text x="631.6" y="333.8" font-size="11" >tppase te to p</text>
<text x="632" y="348" font-size="11" textLength="66.4" lengthAdjust="spacingAndGlyphs">telicamon tar</text>
<text x="245.4" y="431.6" font-size="7.6" font-weight="bold" textLength="17" lengthAdjust="spacingAndGlyphs">WVN</text>
<text x="341.6" y="431.6" font-size="7.6" font-weight="bold" textLength="17.4" lengthAdjust="spacingAndGlyphs">NIOE</text>
<text x="439.6" y="431.6" font-size="7.6" font-weight="bold" textLength="16.8" lengthAdjust="spacingAndGlyphs">WI/N</text>
</svg>
</body></html>
